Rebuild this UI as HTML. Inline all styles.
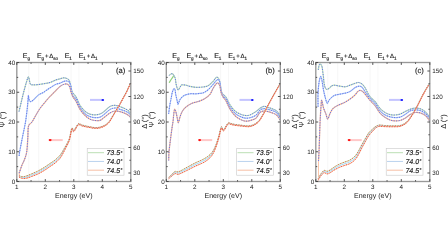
<!DOCTYPE html>
<html><head><meta charset="utf-8"><style>
html,body{margin:0;padding:0;background:#fff;}
svg{display:block;}
text{text-rendering:geometricPrecision;font-family:"Liberation Sans",Arial,sans-serif;fill:#1a1a1a;stroke:#1a1a1a;stroke-width:0;}
.t{font-size:6.3px;}
.ax{font-size:7.05px;}
.axr{font-size:7.3px;stroke-width:0;}
.e{font-size:7px;}
.sub{font-size:4.6px;}
.pm{font-size:6px;}
.e{stroke-width:0.14px;}
.lg{font-size:7px;stroke-width:0.16px;}
.pl{font-size:7.6px;stroke-width:0.12px;}
</style></head><body>
<svg width="448" height="252" viewBox="0 0 448 252">
<rect width="448" height="252" fill="#fff"/>
<g transform="translate(0,0)">
<line x1="28.77" y1="62.5" x2="28.77" y2="181.5" stroke="#e2e2e2" stroke-width="0.6" stroke-dasharray="1,1"/>
<line x1="38.75" y1="62.5" x2="38.75" y2="181.5" stroke="#e2e2e2" stroke-width="0.6" stroke-dasharray="1,1"/>
<line x1="71.09" y1="62.5" x2="71.09" y2="181.5" stroke="#e2e2e2" stroke-width="0.6" stroke-dasharray="1,1"/>
<line x1="78.93" y1="62.5" x2="78.93" y2="181.5" stroke="#e2e2e2" stroke-width="0.6" stroke-dasharray="1,1"/>
<line x1="19.3" y1="172" x2="19.3" y2="177" stroke="#f8b898" stroke-width="0.9"/>
<path d="M19.00,111.60 C19.42,109.83 20.72,104.27 21.50,101.00 C22.28,97.73 22.87,95.17 23.70,92.00 C24.53,88.83 25.70,84.52 26.50,82.00 C27.30,79.48 27.87,76.57 28.50,76.90 C29.13,77.23 29.55,82.68 30.30,84.00 C31.05,85.32 31.72,84.70 33.00,84.80 C34.28,84.90 35.87,84.83 38.00,84.60 C40.13,84.37 43.80,83.75 45.80,83.40 C47.80,83.05 48.30,83.08 50.00,82.50 C51.70,81.92 54.33,80.52 56.00,79.90 C57.67,79.28 58.75,79.15 60.00,78.80 C61.25,78.45 62.50,77.90 63.50,77.80 C64.50,77.70 65.17,77.92 66.00,78.20 C66.83,78.48 67.83,78.78 68.50,79.50 C69.17,80.22 69.55,81.08 70.00,82.50 C70.45,83.92 70.78,86.33 71.20,88.00 C71.62,89.67 71.70,91.03 72.50,92.50 C73.30,93.97 74.75,94.65 76.00,96.80 C77.25,98.95 78.50,102.99 80.00,105.40 C81.50,107.81 83.33,109.78 85.00,111.25 C86.67,112.72 88.33,113.59 90.00,114.20 C91.67,114.81 93.33,114.93 95.00,114.90 C96.67,114.87 98.50,114.56 100.00,114.00 C101.50,113.44 102.33,112.79 104.00,111.53 C105.67,110.27 108.17,107.47 110.00,106.43 C111.83,105.39 113.33,105.26 115.00,105.30 C116.67,105.34 118.33,106.13 120.00,106.70 C121.67,107.27 123.58,108.02 125.00,108.70 C126.42,109.38 127.58,110.08 128.50,110.80 C129.42,111.52 130.17,112.63 130.50,113.00" fill="none" stroke="#c4e6b8" stroke-width="1.25"/>
<path d="M19.00,111.60 C19.42,109.83 20.72,104.27 21.50,101.00 C22.28,97.73 22.87,95.17 23.70,92.00 C24.53,88.83 25.70,84.52 26.50,82.00 C27.30,79.48 27.87,76.57 28.50,76.90 C29.13,77.23 29.55,82.68 30.30,84.00 C31.05,85.32 31.72,84.70 33.00,84.80 C34.28,84.90 35.87,84.83 38.00,84.60 C40.13,84.37 43.80,83.75 45.80,83.40 C47.80,83.05 48.30,83.08 50.00,82.50 C51.70,81.92 54.33,80.52 56.00,79.90 C57.67,79.28 58.75,79.15 60.00,78.80 C61.25,78.45 62.50,77.90 63.50,77.80 C64.50,77.70 65.17,77.92 66.00,78.20 C66.83,78.48 67.83,78.78 68.50,79.50 C69.17,80.22 69.55,81.08 70.00,82.50 C70.45,83.92 70.78,86.33 71.20,88.00 C71.62,89.67 71.70,91.03 72.50,92.50 C73.30,93.97 74.75,94.65 76.00,96.80 C77.25,98.95 78.50,102.99 80.00,105.40 C81.50,107.81 83.33,109.78 85.00,111.25 C86.67,112.72 88.33,113.59 90.00,114.20 C91.67,114.81 93.33,114.93 95.00,114.90 C96.67,114.87 98.50,114.56 100.00,114.00 C101.50,113.44 102.33,112.79 104.00,111.53 C105.67,110.27 108.17,107.47 110.00,106.43 C111.83,105.39 113.33,105.26 115.00,105.30 C116.67,105.34 118.33,106.13 120.00,106.70 C121.67,107.27 123.58,108.02 125.00,108.70 C126.42,109.38 127.58,110.08 128.50,110.80 C129.42,111.52 130.17,112.63 130.50,113.00" fill="none" stroke="#5f70ee" stroke-width="0.95" stroke-dasharray="1.2,1.3"/>
<path d="M19.20,156.00 C19.27,155.33 19.05,155.17 19.60,152.00 C20.15,148.83 21.52,142.00 22.50,137.00 C23.48,132.00 24.70,126.83 25.50,122.00 C26.30,117.17 26.87,111.83 27.30,108.00 C27.73,104.17 27.92,101.10 28.10,99.00 C28.28,96.90 28.27,95.40 28.40,95.40 C28.53,95.40 28.58,97.97 28.90,99.00 C29.22,100.03 29.60,101.40 30.30,101.60 C31.00,101.80 31.75,101.30 33.10,100.20 C34.45,99.10 36.73,96.27 38.40,95.00 C40.07,93.73 41.83,93.33 43.10,92.60 C44.37,91.87 44.85,91.38 46.00,90.60 C47.15,89.82 48.33,88.95 50.00,87.90 C51.67,86.85 54.33,85.08 56.00,84.30 C57.67,83.52 58.67,83.70 60.00,83.20 C61.33,82.70 62.83,81.67 64.00,81.30 C65.17,80.93 66.08,80.80 67.00,81.00 C67.92,81.20 68.87,81.67 69.50,82.50 C70.13,83.33 70.42,84.42 70.80,86.00 C71.18,87.58 71.43,90.33 71.80,92.00 C72.17,93.67 72.30,94.87 73.00,96.00 C73.70,97.13 74.83,96.90 76.00,98.80 C77.17,100.70 78.50,104.91 80.00,107.40 C81.50,109.89 83.33,112.22 85.00,113.75 C86.67,115.28 88.33,115.94 90.00,116.60 C91.67,117.26 93.33,117.60 95.00,117.70 C96.67,117.80 98.50,117.73 100.00,117.20 C101.50,116.67 102.33,115.83 104.00,114.53 C105.67,113.24 108.17,110.52 110.00,109.43 C111.83,108.34 113.33,108.02 115.00,108.00 C116.67,107.98 118.33,108.80 120.00,109.30 C121.67,109.80 123.50,110.35 125.00,111.00 C126.50,111.65 128.08,112.53 129.00,113.20 C129.92,113.87 130.25,114.70 130.50,115.00" fill="none" stroke="#b3cdf4" stroke-width="1.25"/>
<path d="M19.20,156.00 C19.27,155.33 19.05,155.17 19.60,152.00 C20.15,148.83 21.52,142.00 22.50,137.00 C23.48,132.00 24.70,126.83 25.50,122.00 C26.30,117.17 26.87,111.83 27.30,108.00 C27.73,104.17 27.92,101.10 28.10,99.00 C28.28,96.90 28.27,95.40 28.40,95.40 C28.53,95.40 28.58,97.97 28.90,99.00 C29.22,100.03 29.60,101.40 30.30,101.60 C31.00,101.80 31.75,101.30 33.10,100.20 C34.45,99.10 36.73,96.27 38.40,95.00 C40.07,93.73 41.83,93.33 43.10,92.60 C44.37,91.87 44.85,91.38 46.00,90.60 C47.15,89.82 48.33,88.95 50.00,87.90 C51.67,86.85 54.33,85.08 56.00,84.30 C57.67,83.52 58.67,83.70 60.00,83.20 C61.33,82.70 62.83,81.67 64.00,81.30 C65.17,80.93 66.08,80.80 67.00,81.00 C67.92,81.20 68.87,81.67 69.50,82.50 C70.13,83.33 70.42,84.42 70.80,86.00 C71.18,87.58 71.43,90.33 71.80,92.00 C72.17,93.67 72.30,94.87 73.00,96.00 C73.70,97.13 74.83,96.90 76.00,98.80 C77.17,100.70 78.50,104.91 80.00,107.40 C81.50,109.89 83.33,112.22 85.00,113.75 C86.67,115.28 88.33,115.94 90.00,116.60 C91.67,117.26 93.33,117.60 95.00,117.70 C96.67,117.80 98.50,117.73 100.00,117.20 C101.50,116.67 102.33,115.83 104.00,114.53 C105.67,113.24 108.17,110.52 110.00,109.43 C111.83,108.34 113.33,108.02 115.00,108.00 C116.67,107.98 118.33,108.80 120.00,109.30 C121.67,109.80 123.50,110.35 125.00,111.00 C126.50,111.65 128.08,112.53 129.00,113.20 C129.92,113.87 130.25,114.70 130.50,115.00" fill="none" stroke="#5f70ee" stroke-width="0.95" stroke-dasharray="1.2,1.3"/>
<path d="M19.30,173.00 C19.33,172.87 19.05,173.53 19.50,172.20 C19.95,170.87 21.20,167.03 22.00,165.00 C22.80,162.97 23.52,162.17 24.30,160.00 C25.08,157.83 26.12,155.67 26.70,152.00 C27.28,148.33 27.50,142.30 27.80,138.00 C28.10,133.70 27.80,128.87 28.50,126.20 C29.20,123.53 30.75,123.87 32.00,122.00 C33.25,120.13 34.62,117.33 36.00,115.00 C37.38,112.67 38.63,110.33 40.30,108.00 C41.97,105.67 44.38,102.93 46.00,101.00 C47.62,99.07 48.58,97.90 50.00,96.40 C51.42,94.90 52.83,93.67 54.50,92.00 C56.17,90.33 58.25,87.73 60.00,86.40 C61.75,85.07 63.67,84.30 65.00,84.00 C66.33,83.70 67.17,84.00 68.00,84.60 C68.83,85.20 69.50,86.37 70.00,87.60 C70.50,88.83 70.50,90.43 71.00,92.00 C71.50,93.57 72.17,95.45 73.00,97.00 C73.83,98.55 74.83,99.23 76.00,101.30 C77.17,103.37 78.50,107.03 80.00,109.40 C81.50,111.78 83.33,113.92 85.00,115.55 C86.67,117.18 88.33,118.38 90.00,119.20 C91.67,120.03 93.33,120.30 95.00,120.50 C96.67,120.70 98.50,120.89 100.00,120.40 C101.50,119.91 102.33,118.78 104.00,117.53 C105.67,116.29 108.17,114.02 110.00,112.93 C111.83,111.84 113.33,111.22 115.00,111.00 C116.67,110.78 118.33,111.20 120.00,111.60 C121.67,112.00 123.50,112.70 125.00,113.40 C126.50,114.10 128.08,115.12 129.00,115.80 C129.92,116.48 130.25,117.22 130.50,117.50" fill="none" stroke="#f7b994" stroke-width="1.25"/>
<path d="M19.30,173.00 C19.33,172.87 19.05,173.53 19.50,172.20 C19.95,170.87 21.20,167.03 22.00,165.00 C22.80,162.97 23.52,162.17 24.30,160.00 C25.08,157.83 26.12,155.67 26.70,152.00 C27.28,148.33 27.50,142.30 27.80,138.00 C28.10,133.70 27.80,128.87 28.50,126.20 C29.20,123.53 30.75,123.87 32.00,122.00 C33.25,120.13 34.62,117.33 36.00,115.00 C37.38,112.67 38.63,110.33 40.30,108.00 C41.97,105.67 44.38,102.93 46.00,101.00 C47.62,99.07 48.58,97.90 50.00,96.40 C51.42,94.90 52.83,93.67 54.50,92.00 C56.17,90.33 58.25,87.73 60.00,86.40 C61.75,85.07 63.67,84.30 65.00,84.00 C66.33,83.70 67.17,84.00 68.00,84.60 C68.83,85.20 69.50,86.37 70.00,87.60 C70.50,88.83 70.50,90.43 71.00,92.00 C71.50,93.57 72.17,95.45 73.00,97.00 C73.83,98.55 74.83,99.23 76.00,101.30 C77.17,103.37 78.50,107.03 80.00,109.40 C81.50,111.78 83.33,113.92 85.00,115.55 C86.67,117.18 88.33,118.38 90.00,119.20 C91.67,120.03 93.33,120.30 95.00,120.50 C96.67,120.70 98.50,120.89 100.00,120.40 C101.50,119.91 102.33,118.78 104.00,117.53 C105.67,116.29 108.17,114.02 110.00,112.93 C111.83,111.84 113.33,111.22 115.00,111.00 C116.67,110.78 118.33,111.20 120.00,111.60 C121.67,112.00 123.50,112.70 125.00,113.40 C126.50,114.10 128.08,115.12 129.00,115.80 C129.92,116.48 130.25,117.22 130.50,117.50" fill="none" stroke="#5f70ee" stroke-width="0.95" stroke-dasharray="1.2,1.3"/>
<path d="M19.10,175.78 C19.42,175.88 20.20,176.26 21.00,176.40 C21.80,176.54 22.73,176.80 23.90,176.63 C25.07,176.47 26.48,175.96 28.00,175.40 C29.52,174.84 31.43,173.95 33.00,173.28 C34.57,172.60 35.90,172.11 37.40,171.37 C38.90,170.62 40.57,169.64 42.00,168.80 C43.43,167.96 44.67,167.18 46.00,166.30 C47.33,165.42 48.50,164.53 50.00,163.50 C51.50,162.47 53.33,161.47 55.00,160.10 C56.67,158.73 58.67,156.87 60.00,155.30 C61.33,153.73 62.00,152.35 63.00,150.70 C64.00,149.05 64.97,147.33 66.00,145.40 C67.03,143.47 68.43,141.15 69.20,139.11 C69.97,137.08 70.20,134.96 70.60,133.21 C71.00,131.45 71.32,129.44 71.60,128.57 C71.88,127.71 71.98,127.71 72.30,128.01 C72.62,128.31 73.05,130.20 73.50,130.35 C73.95,130.50 74.42,129.71 75.00,128.90 C75.58,128.09 76.37,126.35 77.00,125.47 C77.63,124.58 77.95,123.68 78.80,123.61 C79.65,123.53 81.07,124.68 82.10,125.03 C83.13,125.39 84.02,125.53 85.00,125.76 C85.98,125.98 86.33,126.07 88.00,126.38 C89.67,126.69 93.00,127.49 95.00,127.61 C97.00,127.74 98.33,127.54 100.00,127.12 C101.67,126.71 103.67,125.85 105.00,125.14 C106.33,124.42 107.17,123.63 108.00,122.84 C108.83,122.06 109.33,121.42 110.00,120.45 C110.67,119.48 111.33,118.19 112.00,117.05 C112.67,115.92 113.33,114.77 114.00,113.66 C114.67,112.54 115.33,111.48 116.00,110.36 C116.67,109.25 117.33,108.08 118.00,106.97 C118.67,105.85 119.17,105.16 120.00,103.67 C120.83,102.19 121.90,100.11 123.00,98.08 C124.10,96.05 125.68,93.29 126.60,91.49 C127.52,89.69 127.83,88.69 128.50,87.29 C129.17,85.90 130.25,83.80 130.60,83.10" fill="none" stroke="#b8e4ac" stroke-width="1.0"/>
<path d="M19.10,176.50 C19.42,176.62 20.20,177.02 21.00,177.20 C21.80,177.38 22.73,177.70 23.90,177.60 C25.07,177.50 26.48,177.10 28.00,176.60 C29.52,176.10 31.43,175.23 33.00,174.60 C34.57,173.97 35.90,173.52 37.40,172.80 C38.90,172.08 40.57,171.13 42.00,170.30 C43.43,169.47 44.67,168.68 46.00,167.80 C47.33,166.92 48.50,166.03 50.00,165.00 C51.50,163.97 53.33,162.97 55.00,161.60 C56.67,160.23 58.67,158.40 60.00,156.80 C61.33,155.20 62.00,153.72 63.00,152.00 C64.00,150.28 64.97,148.50 66.00,146.50 C67.03,144.50 68.43,142.08 69.20,140.00 C69.97,137.92 70.20,135.78 70.60,134.00 C71.00,132.22 71.32,130.18 71.60,129.30 C71.88,128.42 71.98,128.42 72.30,128.70 C72.62,128.98 73.05,130.87 73.50,131.00 C73.95,131.13 74.42,130.33 75.00,129.50 C75.58,128.67 76.37,126.90 77.00,126.00 C77.63,125.10 77.95,124.18 78.80,124.10 C79.65,124.02 81.07,125.15 82.10,125.50 C83.13,125.85 84.02,125.98 85.00,126.20 C85.98,126.42 86.33,126.50 88.00,126.80 C89.67,127.10 93.00,127.88 95.00,128.00 C97.00,128.12 98.33,127.92 100.00,127.50 C101.67,127.08 103.67,126.22 105.00,125.50 C106.33,124.78 107.17,123.98 108.00,123.20 C108.83,122.42 109.33,121.77 110.00,120.80 C110.67,119.83 111.33,118.53 112.00,117.40 C112.67,116.27 113.33,115.12 114.00,114.00 C114.67,112.88 115.33,111.82 116.00,110.70 C116.67,109.58 117.33,108.42 118.00,107.30 C118.67,106.18 119.17,105.48 120.00,104.00 C120.83,102.52 121.90,100.43 123.00,98.40 C124.10,96.37 125.68,93.60 126.60,91.80 C127.52,90.00 127.83,89.00 128.50,87.60 C129.17,86.20 130.25,84.10 130.60,83.40" fill="none" stroke="#a8d8f4" stroke-width="1.0"/>
<path d="M19.10,177.22 C19.42,177.35 20.20,177.78 21.00,178.00 C21.80,178.22 22.73,178.60 23.90,178.57 C25.07,178.53 26.48,178.24 28.00,177.80 C29.52,177.36 31.43,176.52 33.00,175.92 C34.57,175.33 35.90,174.92 37.40,174.24 C38.90,173.55 40.57,172.62 42.00,171.80 C43.43,170.98 44.67,170.18 46.00,169.30 C47.33,168.42 48.50,167.53 50.00,166.50 C51.50,165.47 53.33,164.47 55.00,163.10 C56.67,161.73 58.67,159.93 60.00,158.30 C61.33,156.67 62.00,155.08 63.00,153.30 C64.00,151.52 64.97,149.67 66.00,147.60 C67.03,145.53 68.43,143.02 69.20,140.89 C69.97,138.75 70.20,136.60 70.60,134.79 C71.00,132.98 71.32,130.93 71.60,130.03 C71.88,129.13 71.98,129.12 72.30,129.39 C72.62,129.66 73.05,131.53 73.50,131.65 C73.95,131.77 74.42,130.95 75.00,130.10 C75.58,129.25 76.37,127.45 77.00,126.53 C77.63,125.62 77.95,124.69 78.80,124.59 C79.65,124.50 81.07,125.62 82.10,125.97 C83.13,126.31 84.02,126.43 85.00,126.64 C85.98,126.85 86.33,126.93 88.00,127.22 C89.67,127.51 93.00,128.28 95.00,128.39 C97.00,128.50 98.33,128.30 100.00,127.88 C101.67,127.45 103.67,126.58 105.00,125.86 C106.33,125.14 107.17,124.34 108.00,123.56 C108.83,122.77 109.33,122.12 110.00,121.15 C110.67,120.18 111.33,118.88 112.00,117.75 C112.67,116.61 113.33,115.46 114.00,114.34 C114.67,113.22 115.33,112.15 116.00,111.04 C116.67,109.92 117.33,108.75 118.00,107.63 C118.67,106.51 119.17,105.81 120.00,104.33 C120.83,102.84 121.90,100.76 123.00,98.72 C124.10,96.68 125.68,93.91 126.60,92.11 C127.52,90.31 127.83,89.31 128.50,87.91 C129.17,86.50 130.25,84.40 130.60,83.70" fill="none" stroke="#f8b496" stroke-width="1.0"/>
<path d="M19.10,175.78 C19.42,175.88 20.20,176.26 21.00,176.40 C21.80,176.54 22.73,176.80 23.90,176.63 C25.07,176.47 26.48,175.96 28.00,175.40 C29.52,174.84 31.43,173.95 33.00,173.28 C34.57,172.60 35.90,172.11 37.40,171.37 C38.90,170.62 40.57,169.64 42.00,168.80 C43.43,167.96 44.67,167.18 46.00,166.30 C47.33,165.42 48.50,164.53 50.00,163.50 C51.50,162.47 53.33,161.47 55.00,160.10 C56.67,158.73 58.67,156.87 60.00,155.30 C61.33,153.73 62.00,152.35 63.00,150.70 C64.00,149.05 64.97,147.33 66.00,145.40 C67.03,143.47 68.43,141.15 69.20,139.11 C69.97,137.08 70.20,134.96 70.60,133.21 C71.00,131.45 71.32,129.44 71.60,128.57 C71.88,127.71 71.98,127.71 72.30,128.01 C72.62,128.31 73.05,130.20 73.50,130.35 C73.95,130.50 74.42,129.71 75.00,128.90 C75.58,128.09 76.37,126.35 77.00,125.47 C77.63,124.58 77.95,123.68 78.80,123.61 C79.65,123.53 81.07,124.68 82.10,125.03 C83.13,125.39 84.02,125.53 85.00,125.76 C85.98,125.98 86.33,126.07 88.00,126.38 C89.67,126.69 93.00,127.49 95.00,127.61 C97.00,127.74 98.33,127.54 100.00,127.12 C101.67,126.71 103.67,125.85 105.00,125.14 C106.33,124.42 107.17,123.63 108.00,122.84 C108.83,122.06 109.33,121.42 110.00,120.45 C110.67,119.48 111.33,118.19 112.00,117.05 C112.67,115.92 113.33,114.77 114.00,113.66 C114.67,112.54 115.33,111.48 116.00,110.36 C116.67,109.25 117.33,108.08 118.00,106.97 C118.67,105.85 119.17,105.16 120.00,103.67 C120.83,102.19 121.90,100.11 123.00,98.08 C124.10,96.05 125.68,93.29 126.60,91.49 C127.52,89.69 127.83,88.69 128.50,87.29 C129.17,85.90 130.25,83.80 130.60,83.10" fill="none" stroke="#f04a32" stroke-width="0.85" stroke-dasharray="1.1,1.5"/>
<path d="M19.10,177.22 C19.42,177.35 20.20,177.78 21.00,178.00 C21.80,178.22 22.73,178.60 23.90,178.57 C25.07,178.53 26.48,178.24 28.00,177.80 C29.52,177.36 31.43,176.52 33.00,175.92 C34.57,175.33 35.90,174.92 37.40,174.24 C38.90,173.55 40.57,172.62 42.00,171.80 C43.43,170.98 44.67,170.18 46.00,169.30 C47.33,168.42 48.50,167.53 50.00,166.50 C51.50,165.47 53.33,164.47 55.00,163.10 C56.67,161.73 58.67,159.93 60.00,158.30 C61.33,156.67 62.00,155.08 63.00,153.30 C64.00,151.52 64.97,149.67 66.00,147.60 C67.03,145.53 68.43,143.02 69.20,140.89 C69.97,138.75 70.20,136.60 70.60,134.79 C71.00,132.98 71.32,130.93 71.60,130.03 C71.88,129.13 71.98,129.12 72.30,129.39 C72.62,129.66 73.05,131.53 73.50,131.65 C73.95,131.77 74.42,130.95 75.00,130.10 C75.58,129.25 76.37,127.45 77.00,126.53 C77.63,125.62 77.95,124.69 78.80,124.59 C79.65,124.50 81.07,125.62 82.10,125.97 C83.13,126.31 84.02,126.43 85.00,126.64 C85.98,126.85 86.33,126.93 88.00,127.22 C89.67,127.51 93.00,128.28 95.00,128.39 C97.00,128.50 98.33,128.30 100.00,127.88 C101.67,127.45 103.67,126.58 105.00,125.86 C106.33,125.14 107.17,124.34 108.00,123.56 C108.83,122.77 109.33,122.12 110.00,121.15 C110.67,120.18 111.33,118.88 112.00,117.75 C112.67,116.61 113.33,115.46 114.00,114.34 C114.67,113.22 115.33,112.15 116.00,111.04 C116.67,109.92 117.33,108.75 118.00,107.63 C118.67,106.51 119.17,105.81 120.00,104.33 C120.83,102.84 121.90,100.76 123.00,98.72 C124.10,96.68 125.68,93.91 126.60,92.11 C127.52,90.31 127.83,89.31 128.50,87.91 C129.17,86.50 130.25,84.40 130.60,83.70" fill="none" stroke="#f04a32" stroke-width="0.85" stroke-dasharray="1.1,1.5"/>
<rect x="16.8" y="62.5" width="114.00000000000001" height="119.0" fill="none" stroke="#989898" stroke-width="1.35"/>
<line x1="16.80" y1="181.5" x2="16.80" y2="179.1" stroke="#404040" stroke-width="0.9"/>
<line x1="16.80" y1="62.5" x2="16.80" y2="64.9" stroke="#404040" stroke-width="0.9"/>
<line x1="31.05" y1="181.5" x2="31.05" y2="180.1" stroke="#404040" stroke-width="0.9"/>
<line x1="31.05" y1="62.5" x2="31.05" y2="63.9" stroke="#404040" stroke-width="0.9"/>
<line x1="45.30" y1="181.5" x2="45.30" y2="179.1" stroke="#404040" stroke-width="0.9"/>
<line x1="45.30" y1="62.5" x2="45.30" y2="64.9" stroke="#404040" stroke-width="0.9"/>
<line x1="59.55" y1="181.5" x2="59.55" y2="180.1" stroke="#404040" stroke-width="0.9"/>
<line x1="59.55" y1="62.5" x2="59.55" y2="63.9" stroke="#404040" stroke-width="0.9"/>
<line x1="73.80" y1="181.5" x2="73.80" y2="179.1" stroke="#404040" stroke-width="0.9"/>
<line x1="73.80" y1="62.5" x2="73.80" y2="64.9" stroke="#404040" stroke-width="0.9"/>
<line x1="88.05" y1="181.5" x2="88.05" y2="180.1" stroke="#404040" stroke-width="0.9"/>
<line x1="88.05" y1="62.5" x2="88.05" y2="63.9" stroke="#404040" stroke-width="0.9"/>
<line x1="102.30" y1="181.5" x2="102.30" y2="179.1" stroke="#404040" stroke-width="0.9"/>
<line x1="102.30" y1="62.5" x2="102.30" y2="64.9" stroke="#404040" stroke-width="0.9"/>
<line x1="116.55" y1="181.5" x2="116.55" y2="180.1" stroke="#404040" stroke-width="0.9"/>
<line x1="116.55" y1="62.5" x2="116.55" y2="63.9" stroke="#404040" stroke-width="0.9"/>
<line x1="130.80" y1="181.5" x2="130.80" y2="179.1" stroke="#404040" stroke-width="0.9"/>
<line x1="130.80" y1="62.5" x2="130.80" y2="64.9" stroke="#404040" stroke-width="0.9"/>
<line x1="16.8" y1="181.50" x2="19.2" y2="181.50" stroke="#404040" stroke-width="0.9"/>
<line x1="16.8" y1="166.62" x2="18.2" y2="166.62" stroke="#404040" stroke-width="0.9"/>
<line x1="16.8" y1="151.75" x2="19.2" y2="151.75" stroke="#404040" stroke-width="0.9"/>
<line x1="16.8" y1="136.88" x2="18.2" y2="136.88" stroke="#404040" stroke-width="0.9"/>
<line x1="16.8" y1="122.00" x2="19.2" y2="122.00" stroke="#404040" stroke-width="0.9"/>
<line x1="16.8" y1="107.12" x2="18.2" y2="107.12" stroke="#404040" stroke-width="0.9"/>
<line x1="16.8" y1="92.25" x2="19.2" y2="92.25" stroke="#404040" stroke-width="0.9"/>
<line x1="16.8" y1="77.38" x2="18.2" y2="77.38" stroke="#404040" stroke-width="0.9"/>
<line x1="16.8" y1="62.50" x2="19.2" y2="62.50" stroke="#404040" stroke-width="0.9"/>
<line x1="130.8" y1="173.00" x2="128.4" y2="173.00" stroke="#404040" stroke-width="0.9"/>
<line x1="130.8" y1="160.25" x2="129.4" y2="160.25" stroke="#404040" stroke-width="0.9"/>
<line x1="130.8" y1="147.50" x2="128.4" y2="147.50" stroke="#404040" stroke-width="0.9"/>
<line x1="130.8" y1="134.75" x2="129.4" y2="134.75" stroke="#404040" stroke-width="0.9"/>
<line x1="130.8" y1="122.00" x2="128.4" y2="122.00" stroke="#404040" stroke-width="0.9"/>
<line x1="130.8" y1="109.25" x2="129.4" y2="109.25" stroke="#404040" stroke-width="0.9"/>
<line x1="130.8" y1="96.50" x2="128.4" y2="96.50" stroke="#404040" stroke-width="0.9"/>
<line x1="130.8" y1="83.75" x2="129.4" y2="83.75" stroke="#404040" stroke-width="0.9"/>
<line x1="130.8" y1="71.00" x2="128.4" y2="71.00" stroke="#404040" stroke-width="0.9"/>
<text x="16.80" y="189" class="t" text-anchor="middle">1</text>
<text x="45.30" y="189" class="t" text-anchor="middle">2</text>
<text x="73.80" y="189" class="t" text-anchor="middle">3</text>
<text x="102.30" y="189" class="t" text-anchor="middle">4</text>
<text x="130.80" y="189" class="t" text-anchor="middle">5</text>
<text x="15.3" y="183.60" class="t" text-anchor="end">0</text>
<text x="15.3" y="153.85" class="t" text-anchor="end">10</text>
<text x="15.3" y="124.10" class="t" text-anchor="end">20</text>
<text x="15.3" y="94.35" class="t" text-anchor="end">30</text>
<text x="15.3" y="64.60" class="t" text-anchor="end">40</text>
<text x="133.3" y="175.10" class="t">30</text>
<text x="133.3" y="149.60" class="t">60</text>
<text x="133.3" y="124.10" class="t">90</text>
<text x="133.3" y="98.60" class="t">120</text>
<text x="133.3" y="73.10" class="t">150</text>
<text x="73.80" y="197.5" class="ax" text-anchor="middle">Energy (eV)</text>
<text transform="translate(4.600000000000001,119.5) rotate(-90)" class="axr" text-anchor="middle">&#936; (&#176;)</text>
<text transform="translate(147.3,121.5) rotate(-90)" class="axr" text-anchor="middle">&#916; (&#176;)</text>
<text x="22.8" y="57.5" class="e">E<tspan class="sub" dy="2.3">g</tspan></text>
<text x="36.9" y="57.5" class="e">E<tspan class="sub" dy="2.3">g</tspan><tspan class="pm" dy="-2.3" dx="0.8">+</tspan><tspan class="pm" dx="0.7">&#916;</tspan><tspan class="sub" dy="2.3">so</tspan></text>
<text x="64.7" y="57.5" class="e">E<tspan class="sub" dy="2.3">1</tspan></text>
<text x="78.7" y="57.5" class="e">E<tspan class="sub" dy="2.3">1</tspan><tspan class="pm" dy="-2.3" dx="0.8">+</tspan><tspan class="pm" dx="0.7">&#916;</tspan><tspan class="sub" dy="2.3">1</tspan></text>
<line x1="90" y1="99.9" x2="102" y2="99.9" stroke="#c4c4ff" stroke-width="2"/>
<ellipse cx="102.8" cy="99.95" rx="1.35" ry="1.05" fill="#1414ff"/>
<line x1="51" y1="140.1" x2="62.7" y2="140.1" stroke="#ffc8c8" stroke-width="2"/>
<ellipse cx="50.1" cy="140.1" rx="1.5" ry="1.1" fill="#ff1010"/>
<text x="116" y="72.8" class="pl">(a)</text>
<rect x="87.2" y="148.3" width="36.8" height="26.9" fill="#fff" stroke="#c8c8c8" stroke-width="0.6"/>
<line x1="88" y1="152.70" x2="104" y2="152.70" stroke="#a9d6a0" stroke-width="0.8"/>
<text transform="translate(106.2,155.10) skewX(-9)" class="lg">73.5<tspan font-size="5.4px" dy="-0.6">&#176;</tspan></text>
<line x1="88" y1="161.45" x2="104" y2="161.45" stroke="#a8c8ea" stroke-width="0.8"/>
<text transform="translate(106.2,163.85) skewX(-9)" class="lg">74.0<tspan font-size="5.4px" dy="-0.6">&#176;</tspan></text>
<line x1="88" y1="170.20" x2="104" y2="170.20" stroke="#f4b08e" stroke-width="0.8"/>
<text transform="translate(106.2,172.60) skewX(-9)" class="lg">74.5<tspan font-size="5.4px" dy="-0.6">&#176;</tspan></text>
</g>
<g transform="translate(149.5,0)">
<line x1="28.77" y1="62.5" x2="28.77" y2="181.5" stroke="#e2e2e2" stroke-width="0.6" stroke-dasharray="1,1"/>
<line x1="38.75" y1="62.5" x2="38.75" y2="181.5" stroke="#e2e2e2" stroke-width="0.6" stroke-dasharray="1,1"/>
<line x1="71.09" y1="62.5" x2="71.09" y2="181.5" stroke="#e2e2e2" stroke-width="0.6" stroke-dasharray="1,1"/>
<line x1="78.93" y1="62.5" x2="78.93" y2="181.5" stroke="#e2e2e2" stroke-width="0.6" stroke-dasharray="1,1"/>
<path d="M19.70,82.70 C20.08,82.08 21.22,80.20 22.00,79.00 C22.78,77.80 24.00,76.08 24.40,75.50" fill="none" stroke="#8fd07a" stroke-width="1.2"/>
<path d="M19.70,75.50 C19.92,75.28 20.48,74.50 21.00,74.20 C21.52,73.90 22.23,73.48 22.80,73.70 C23.37,73.92 23.93,74.80 24.40,75.50 C24.87,76.20 25.32,77.07 25.60,77.90 C25.88,78.73 25.95,79.55 26.10,80.50 C26.25,81.45 26.33,82.65 26.50,83.60 C26.67,84.55 26.88,85.38 27.10,86.20 C27.32,87.02 27.57,87.88 27.80,88.50 C28.03,89.12 28.25,89.73 28.50,89.90 C28.75,90.07 28.85,90.15 29.30,89.50 C29.75,88.85 30.68,86.78 31.20,86.00 C31.72,85.22 31.52,84.93 32.40,84.80 C33.28,84.67 35.15,84.93 36.50,85.20 C37.85,85.47 38.83,86.05 40.50,86.40 C42.17,86.75 44.33,87.20 46.50,87.30 C48.67,87.40 51.50,87.25 53.50,87.00 C55.50,86.75 56.83,86.72 58.50,85.80 C60.17,84.88 62.30,82.72 63.50,81.50 C64.70,80.28 65.05,79.22 65.70,78.50 C66.35,77.78 66.85,77.22 67.40,77.20 C67.95,77.18 68.55,77.73 69.00,78.40 C69.45,79.07 69.78,80.10 70.10,81.20 C70.42,82.30 70.65,83.53 70.90,85.00 C71.15,86.47 71.25,88.53 71.60,90.00 C71.95,91.47 72.18,92.60 73.00,93.80 C73.82,95.00 75.25,95.36 76.50,97.22 C77.75,99.07 79.00,102.61 80.50,104.91 C82.00,107.21 83.83,109.50 85.50,111.01 C87.17,112.52 88.83,113.24 90.50,113.99 C92.17,114.74 93.83,115.33 95.50,115.49 C97.17,115.65 98.67,115.62 100.50,114.97 C102.33,114.31 104.83,112.67 106.50,111.55 C108.17,110.43 109.17,109.12 110.50,108.25 C111.83,107.38 113.17,106.46 114.50,106.30 C115.83,106.14 117.17,106.90 118.50,107.30 C119.83,107.70 121.17,108.17 122.50,108.70 C123.83,109.23 125.42,109.78 126.50,110.50 C127.58,111.22 128.33,112.08 129.00,113.00 C129.67,113.92 130.25,115.50 130.50,116.00" fill="none" stroke="#c4e6b8" stroke-width="1.25"/>
<path d="M19.70,75.50 C19.92,75.28 20.48,74.50 21.00,74.20 C21.52,73.90 22.23,73.48 22.80,73.70 C23.37,73.92 23.93,74.80 24.40,75.50 C24.87,76.20 25.32,77.07 25.60,77.90 C25.88,78.73 25.95,79.55 26.10,80.50 C26.25,81.45 26.33,82.65 26.50,83.60 C26.67,84.55 26.88,85.38 27.10,86.20 C27.32,87.02 27.57,87.88 27.80,88.50 C28.03,89.12 28.25,89.73 28.50,89.90 C28.75,90.07 28.85,90.15 29.30,89.50 C29.75,88.85 30.68,86.78 31.20,86.00 C31.72,85.22 31.52,84.93 32.40,84.80 C33.28,84.67 35.15,84.93 36.50,85.20 C37.85,85.47 38.83,86.05 40.50,86.40 C42.17,86.75 44.33,87.20 46.50,87.30 C48.67,87.40 51.50,87.25 53.50,87.00 C55.50,86.75 56.83,86.72 58.50,85.80 C60.17,84.88 62.30,82.72 63.50,81.50 C64.70,80.28 65.05,79.22 65.70,78.50 C66.35,77.78 66.85,77.22 67.40,77.20 C67.95,77.18 68.55,77.73 69.00,78.40 C69.45,79.07 69.78,80.10 70.10,81.20 C70.42,82.30 70.65,83.53 70.90,85.00 C71.15,86.47 71.25,88.53 71.60,90.00 C71.95,91.47 72.18,92.60 73.00,93.80 C73.82,95.00 75.25,95.36 76.50,97.22 C77.75,99.07 79.00,102.61 80.50,104.91 C82.00,107.21 83.83,109.50 85.50,111.01 C87.17,112.52 88.83,113.24 90.50,113.99 C92.17,114.74 93.83,115.33 95.50,115.49 C97.17,115.65 98.67,115.62 100.50,114.97 C102.33,114.31 104.83,112.67 106.50,111.55 C108.17,110.43 109.17,109.12 110.50,108.25 C111.83,107.38 113.17,106.46 114.50,106.30 C115.83,106.14 117.17,106.90 118.50,107.30 C119.83,107.70 121.17,108.17 122.50,108.70 C123.83,109.23 125.42,109.78 126.50,110.50 C127.58,111.22 128.33,112.08 129.00,113.00 C129.67,113.92 130.25,115.50 130.50,116.00" fill="none" stroke="#5f70ee" stroke-width="0.95" stroke-dasharray="1.2,1.3"/>
<path d="M19.00,114.00 C19.05,113.78 19.12,113.98 19.30,112.70 C19.48,111.42 19.77,108.42 20.10,106.30 C20.43,104.18 21.02,101.47 21.30,100.00 C21.58,98.53 21.55,98.78 21.80,97.50 C22.05,96.22 22.37,93.77 22.80,92.30 C23.23,90.83 23.93,89.08 24.40,88.70 C24.87,88.32 25.32,89.13 25.60,90.00 C25.88,90.87 25.90,92.72 26.10,93.90 C26.30,95.08 26.53,95.92 26.80,97.10 C27.07,98.28 27.43,99.80 27.70,101.00 C27.97,102.20 28.13,104.05 28.40,104.30 C28.67,104.55 28.90,103.37 29.30,102.50 C29.70,101.63 29.95,100.25 30.80,99.10 C31.65,97.95 32.82,96.48 34.40,95.60 C35.98,94.72 38.28,94.10 40.30,93.80 C42.32,93.50 44.47,93.90 46.50,93.80 C48.53,93.70 51.00,93.50 52.50,93.20 C54.00,92.90 54.33,92.70 55.50,92.00 C56.67,91.30 58.17,90.25 59.50,89.00 C60.83,87.75 62.27,85.92 63.50,84.50 C64.73,83.08 66.07,81.32 66.90,80.50 C67.73,79.68 67.98,79.52 68.50,79.60 C69.02,79.68 69.60,80.02 70.00,81.00 C70.40,81.98 70.63,83.83 70.90,85.50 C71.17,87.17 71.17,89.25 71.60,91.00 C72.03,92.75 72.68,94.68 73.50,96.00 C74.32,97.32 75.33,97.08 76.50,98.92 C77.67,100.75 79.00,104.61 80.50,107.01 C82.00,109.41 83.83,111.75 85.50,113.31 C87.17,114.87 88.83,115.59 90.50,116.39 C92.17,117.19 93.83,117.86 95.50,118.09 C97.17,118.32 98.67,118.26 100.50,117.77 C102.33,117.28 104.83,116.44 106.50,115.15 C108.17,113.86 109.17,111.13 110.50,110.05 C111.83,108.98 113.17,108.83 114.50,108.70 C115.83,108.58 117.17,109.00 118.50,109.30 C119.83,109.60 121.17,110.02 122.50,110.50 C123.83,110.98 125.42,111.45 126.50,112.20 C127.58,112.95 128.33,114.03 129.00,115.00 C129.67,115.97 130.25,117.50 130.50,118.00" fill="none" stroke="#b3cdf4" stroke-width="1.25"/>
<path d="M19.00,114.00 C19.05,113.78 19.12,113.98 19.30,112.70 C19.48,111.42 19.77,108.42 20.10,106.30 C20.43,104.18 21.02,101.47 21.30,100.00 C21.58,98.53 21.55,98.78 21.80,97.50 C22.05,96.22 22.37,93.77 22.80,92.30 C23.23,90.83 23.93,89.08 24.40,88.70 C24.87,88.32 25.32,89.13 25.60,90.00 C25.88,90.87 25.90,92.72 26.10,93.90 C26.30,95.08 26.53,95.92 26.80,97.10 C27.07,98.28 27.43,99.80 27.70,101.00 C27.97,102.20 28.13,104.05 28.40,104.30 C28.67,104.55 28.90,103.37 29.30,102.50 C29.70,101.63 29.95,100.25 30.80,99.10 C31.65,97.95 32.82,96.48 34.40,95.60 C35.98,94.72 38.28,94.10 40.30,93.80 C42.32,93.50 44.47,93.90 46.50,93.80 C48.53,93.70 51.00,93.50 52.50,93.20 C54.00,92.90 54.33,92.70 55.50,92.00 C56.67,91.30 58.17,90.25 59.50,89.00 C60.83,87.75 62.27,85.92 63.50,84.50 C64.73,83.08 66.07,81.32 66.90,80.50 C67.73,79.68 67.98,79.52 68.50,79.60 C69.02,79.68 69.60,80.02 70.00,81.00 C70.40,81.98 70.63,83.83 70.90,85.50 C71.17,87.17 71.17,89.25 71.60,91.00 C72.03,92.75 72.68,94.68 73.50,96.00 C74.32,97.32 75.33,97.08 76.50,98.92 C77.67,100.75 79.00,104.61 80.50,107.01 C82.00,109.41 83.83,111.75 85.50,113.31 C87.17,114.87 88.83,115.59 90.50,116.39 C92.17,117.19 93.83,117.86 95.50,118.09 C97.17,118.32 98.67,118.26 100.50,117.77 C102.33,117.28 104.83,116.44 106.50,115.15 C108.17,113.86 109.17,111.13 110.50,110.05 C111.83,108.98 113.17,108.83 114.50,108.70 C115.83,108.58 117.17,109.00 118.50,109.30 C119.83,109.60 121.17,110.02 122.50,110.50 C123.83,110.98 125.42,111.45 126.50,112.20 C127.58,112.95 128.33,114.03 129.00,115.00 C129.67,115.97 130.25,117.50 130.50,118.00" fill="none" stroke="#5f70ee" stroke-width="0.95" stroke-dasharray="1.2,1.3"/>
<path d="M19.20,160.50 C19.25,159.08 19.22,155.42 19.50,152.00 C19.78,148.58 20.40,144.00 20.90,140.00 C21.40,136.00 22.05,131.17 22.50,128.00 C22.95,124.83 23.33,123.08 23.60,121.00 C23.87,118.92 23.87,117.42 24.10,115.50 C24.33,113.58 24.68,110.33 25.00,109.50 C25.32,108.67 25.70,109.83 26.00,110.50 C26.30,111.17 26.50,112.20 26.80,113.50 C27.10,114.80 27.52,116.80 27.80,118.30 C28.08,119.80 28.25,121.97 28.50,122.50 C28.75,123.03 28.92,122.58 29.30,121.50 C29.68,120.42 30.18,117.75 30.80,116.00 C31.42,114.25 32.05,112.50 33.00,111.00 C33.95,109.50 34.92,108.28 36.50,107.00 C38.08,105.72 40.83,104.12 42.50,103.30 C44.17,102.48 45.17,102.50 46.50,102.10 C47.83,101.70 49.00,101.50 50.50,100.90 C52.00,100.30 53.83,99.58 55.50,98.50 C57.17,97.42 59.17,96.07 60.50,94.40 C61.83,92.73 62.50,90.23 63.50,88.50 C64.50,86.77 65.70,84.93 66.50,84.00 C67.30,83.07 67.80,82.85 68.30,82.90 C68.80,82.95 69.13,83.73 69.50,84.30 C69.87,84.87 70.17,85.02 70.50,86.30 C70.83,87.58 71.00,90.22 71.50,92.00 C72.00,93.78 72.67,95.51 73.50,97.00 C74.33,98.49 75.33,98.90 76.50,100.92 C77.67,102.94 79.00,106.64 80.50,109.11 C82.00,111.58 83.83,114.03 85.50,115.71 C87.17,117.39 88.83,118.29 90.50,119.19 C92.17,120.09 93.83,120.86 95.50,121.09 C97.17,121.32 98.67,121.06 100.50,120.57 C102.33,120.08 104.83,119.52 106.50,118.15 C108.17,116.78 109.17,113.54 110.50,112.35 C111.83,111.16 113.17,111.12 114.50,111.00 C115.83,110.88 117.17,111.30 118.50,111.60 C119.83,111.90 121.17,112.30 122.50,112.80 C123.83,113.30 125.42,113.82 126.50,114.60 C127.58,115.38 128.33,116.60 129.00,117.50 C129.67,118.40 130.25,119.58 130.50,120.00" fill="none" stroke="#f7b994" stroke-width="1.25"/>
<path d="M19.20,160.50 C19.25,159.08 19.22,155.42 19.50,152.00 C19.78,148.58 20.40,144.00 20.90,140.00 C21.40,136.00 22.05,131.17 22.50,128.00 C22.95,124.83 23.33,123.08 23.60,121.00 C23.87,118.92 23.87,117.42 24.10,115.50 C24.33,113.58 24.68,110.33 25.00,109.50 C25.32,108.67 25.70,109.83 26.00,110.50 C26.30,111.17 26.50,112.20 26.80,113.50 C27.10,114.80 27.52,116.80 27.80,118.30 C28.08,119.80 28.25,121.97 28.50,122.50 C28.75,123.03 28.92,122.58 29.30,121.50 C29.68,120.42 30.18,117.75 30.80,116.00 C31.42,114.25 32.05,112.50 33.00,111.00 C33.95,109.50 34.92,108.28 36.50,107.00 C38.08,105.72 40.83,104.12 42.50,103.30 C44.17,102.48 45.17,102.50 46.50,102.10 C47.83,101.70 49.00,101.50 50.50,100.90 C52.00,100.30 53.83,99.58 55.50,98.50 C57.17,97.42 59.17,96.07 60.50,94.40 C61.83,92.73 62.50,90.23 63.50,88.50 C64.50,86.77 65.70,84.93 66.50,84.00 C67.30,83.07 67.80,82.85 68.30,82.90 C68.80,82.95 69.13,83.73 69.50,84.30 C69.87,84.87 70.17,85.02 70.50,86.30 C70.83,87.58 71.00,90.22 71.50,92.00 C72.00,93.78 72.67,95.51 73.50,97.00 C74.33,98.49 75.33,98.90 76.50,100.92 C77.67,102.94 79.00,106.64 80.50,109.11 C82.00,111.58 83.83,114.03 85.50,115.71 C87.17,117.39 88.83,118.29 90.50,119.19 C92.17,120.09 93.83,120.86 95.50,121.09 C97.17,121.32 98.67,121.06 100.50,120.57 C102.33,120.08 104.83,119.52 106.50,118.15 C108.17,116.78 109.17,113.54 110.50,112.35 C111.83,111.16 113.17,111.12 114.50,111.00 C115.83,110.88 117.17,111.30 118.50,111.60 C119.83,111.90 121.17,112.30 122.50,112.80 C123.83,113.30 125.42,113.82 126.50,114.60 C127.58,115.38 128.33,116.60 129.00,117.50 C129.67,118.40 130.25,119.58 130.50,120.00" fill="none" stroke="#5f70ee" stroke-width="0.95" stroke-dasharray="1.2,1.3"/>
<path d="M19.20,177.27 C19.50,177.01 20.37,176.31 21.00,175.70 C21.63,175.09 22.20,174.30 23.00,173.59 C23.80,172.87 24.90,171.69 25.80,171.43 C26.70,171.16 27.53,172.07 28.40,171.99 C29.27,171.90 30.00,171.38 31.00,170.90 C32.00,170.42 32.82,169.95 34.40,169.09 C35.98,168.22 38.48,166.79 40.50,165.70 C42.52,164.61 44.83,163.37 46.50,162.56 C48.17,161.75 49.00,161.54 50.50,160.83 C52.00,160.12 53.83,159.34 55.50,158.31 C57.17,157.29 59.08,156.01 60.50,154.66 C61.92,153.30 62.95,151.98 64.00,150.20 C65.05,148.42 65.92,146.30 66.80,143.95 C67.68,141.61 68.62,138.49 69.30,136.12 C69.98,133.75 70.48,131.27 70.90,129.73 C71.32,128.19 71.53,127.32 71.80,126.89 C72.07,126.45 72.22,126.66 72.50,127.12 C72.78,127.58 73.08,129.39 73.50,129.65 C73.92,129.91 74.42,129.43 75.00,128.70 C75.58,127.97 76.33,126.25 77.00,125.27 C77.67,124.28 78.25,123.10 79.00,122.81 C79.75,122.52 80.42,123.25 81.50,123.53 C82.58,123.80 84.00,124.20 85.50,124.46 C87.00,124.72 88.83,124.89 90.50,125.10 C92.17,125.31 94.00,125.58 95.50,125.71 C97.00,125.85 98.17,126.05 99.50,125.92 C100.83,125.79 102.33,125.38 103.50,124.93 C104.67,124.49 105.67,123.77 106.50,123.24 C107.33,122.71 107.83,122.39 108.50,121.75 C109.17,121.10 109.83,120.30 110.50,119.35 C111.17,118.40 111.83,117.17 112.50,116.06 C113.17,114.94 113.83,113.86 114.50,112.66 C115.17,111.46 115.83,110.13 116.50,108.87 C117.17,107.60 117.83,106.34 118.50,105.07 C119.17,103.81 119.67,102.81 120.50,101.27 C121.33,99.74 122.53,97.61 123.50,95.88 C124.47,94.15 125.47,92.35 126.30,90.89 C127.13,89.42 127.73,88.39 128.50,87.09 C129.27,85.80 130.50,83.77 130.90,83.10" fill="none" stroke="#b8e4ac" stroke-width="1.0"/>
<path d="M19.20,178.00 C19.50,177.75 20.37,177.08 21.00,176.50 C21.63,175.92 22.20,175.17 23.00,174.50 C23.80,173.83 24.90,172.72 25.80,172.50 C26.70,172.28 27.53,173.25 28.40,173.20 C29.27,173.15 30.00,172.65 31.00,172.20 C32.00,171.75 32.82,171.32 34.40,170.50 C35.98,169.68 38.48,168.35 40.50,167.30 C42.52,166.25 44.83,165.00 46.50,164.20 C48.17,163.40 49.00,163.20 50.50,162.50 C52.00,161.80 53.83,161.05 55.50,160.00 C57.17,158.95 59.08,157.62 60.50,156.20 C61.92,154.78 62.95,153.37 64.00,151.50 C65.05,149.63 65.92,147.42 66.80,145.00 C67.68,142.58 68.62,139.42 69.30,137.00 C69.98,134.58 70.48,132.07 70.90,130.50 C71.32,128.93 71.53,128.05 71.80,127.60 C72.07,127.15 72.22,127.35 72.50,127.80 C72.78,128.25 73.08,130.05 73.50,130.30 C73.92,130.55 74.42,130.05 75.00,129.30 C75.58,128.55 76.33,126.80 77.00,125.80 C77.67,124.80 78.25,123.60 79.00,123.30 C79.75,123.00 80.42,123.73 81.50,124.00 C82.58,124.27 84.00,124.65 85.50,124.90 C87.00,125.15 88.83,125.30 90.50,125.50 C92.17,125.70 94.00,125.97 95.50,126.10 C97.00,126.23 98.17,126.43 99.50,126.30 C100.83,126.17 102.33,125.75 103.50,125.30 C104.67,124.85 105.67,124.13 106.50,123.60 C107.33,123.07 107.83,122.75 108.50,122.10 C109.17,121.45 109.83,120.65 110.50,119.70 C111.17,118.75 111.83,117.52 112.50,116.40 C113.17,115.28 113.83,114.20 114.50,113.00 C115.17,111.80 115.83,110.47 116.50,109.20 C117.17,107.93 117.83,106.67 118.50,105.40 C119.17,104.13 119.67,103.13 120.50,101.60 C121.33,100.07 122.53,97.93 123.50,96.20 C124.47,94.47 125.47,92.67 126.30,91.20 C127.13,89.73 127.73,88.70 128.50,87.40 C129.27,86.10 130.50,84.07 130.90,83.40" fill="none" stroke="#a8d8f4" stroke-width="1.0"/>
<path d="M19.20,178.73 C19.50,178.49 20.37,177.85 21.00,177.30 C21.63,176.75 22.20,176.04 23.00,175.41 C23.80,174.79 24.90,173.74 25.80,173.57 C26.70,173.41 27.53,174.43 28.40,174.41 C29.27,174.40 30.00,173.92 31.00,173.50 C32.00,173.08 32.82,172.68 34.40,171.91 C35.98,171.15 38.48,169.91 40.50,168.90 C42.52,167.89 44.83,166.63 46.50,165.84 C48.17,165.05 49.00,164.86 50.50,164.17 C52.00,163.48 53.83,162.76 55.50,161.69 C57.17,160.61 59.08,159.22 60.50,157.74 C61.92,156.26 62.95,154.75 64.00,152.80 C65.05,150.85 65.92,148.53 66.80,146.05 C67.68,143.56 68.62,140.34 69.30,137.88 C69.98,135.42 70.48,132.87 70.90,131.27 C71.32,129.68 71.53,128.78 71.80,128.31 C72.07,127.85 72.22,128.04 72.50,128.48 C72.78,128.92 73.08,130.71 73.50,130.95 C73.92,131.19 74.42,130.67 75.00,129.90 C75.58,129.13 76.33,127.35 77.00,126.33 C77.67,125.32 78.25,124.10 79.00,123.79 C79.75,123.48 80.42,124.21 81.50,124.47 C82.58,124.73 84.00,125.10 85.50,125.34 C87.00,125.58 88.83,125.71 90.50,125.90 C92.17,126.09 94.00,126.36 95.50,126.49 C97.00,126.62 98.17,126.81 99.50,126.68 C100.83,126.54 102.33,126.12 103.50,125.67 C104.67,125.21 105.67,124.49 106.50,123.96 C107.33,123.42 107.83,123.11 108.50,122.45 C109.17,121.80 109.83,121.00 110.50,120.05 C111.17,119.10 111.83,117.86 112.50,116.74 C113.17,115.63 113.83,114.54 114.50,113.34 C115.17,112.14 115.83,110.80 116.50,109.53 C117.17,108.27 117.83,107.00 118.50,105.73 C119.17,104.46 119.67,103.46 120.50,101.92 C121.33,100.39 122.53,98.25 123.50,96.52 C124.47,94.78 125.47,92.98 126.30,91.51 C127.13,90.04 127.73,89.01 128.50,87.71 C129.27,86.40 130.50,84.37 130.90,83.70" fill="none" stroke="#f8b496" stroke-width="1.0"/>
<path d="M19.20,177.27 C19.50,177.01 20.37,176.31 21.00,175.70 C21.63,175.09 22.20,174.30 23.00,173.59 C23.80,172.87 24.90,171.69 25.80,171.43 C26.70,171.16 27.53,172.07 28.40,171.99 C29.27,171.90 30.00,171.38 31.00,170.90 C32.00,170.42 32.82,169.95 34.40,169.09 C35.98,168.22 38.48,166.79 40.50,165.70 C42.52,164.61 44.83,163.37 46.50,162.56 C48.17,161.75 49.00,161.54 50.50,160.83 C52.00,160.12 53.83,159.34 55.50,158.31 C57.17,157.29 59.08,156.01 60.50,154.66 C61.92,153.30 62.95,151.98 64.00,150.20 C65.05,148.42 65.92,146.30 66.80,143.95 C67.68,141.61 68.62,138.49 69.30,136.12 C69.98,133.75 70.48,131.27 70.90,129.73 C71.32,128.19 71.53,127.32 71.80,126.89 C72.07,126.45 72.22,126.66 72.50,127.12 C72.78,127.58 73.08,129.39 73.50,129.65 C73.92,129.91 74.42,129.43 75.00,128.70 C75.58,127.97 76.33,126.25 77.00,125.27 C77.67,124.28 78.25,123.10 79.00,122.81 C79.75,122.52 80.42,123.25 81.50,123.53 C82.58,123.80 84.00,124.20 85.50,124.46 C87.00,124.72 88.83,124.89 90.50,125.10 C92.17,125.31 94.00,125.58 95.50,125.71 C97.00,125.85 98.17,126.05 99.50,125.92 C100.83,125.79 102.33,125.38 103.50,124.93 C104.67,124.49 105.67,123.77 106.50,123.24 C107.33,122.71 107.83,122.39 108.50,121.75 C109.17,121.10 109.83,120.30 110.50,119.35 C111.17,118.40 111.83,117.17 112.50,116.06 C113.17,114.94 113.83,113.86 114.50,112.66 C115.17,111.46 115.83,110.13 116.50,108.87 C117.17,107.60 117.83,106.34 118.50,105.07 C119.17,103.81 119.67,102.81 120.50,101.27 C121.33,99.74 122.53,97.61 123.50,95.88 C124.47,94.15 125.47,92.35 126.30,90.89 C127.13,89.42 127.73,88.39 128.50,87.09 C129.27,85.80 130.50,83.77 130.90,83.10" fill="none" stroke="#f04a32" stroke-width="0.85" stroke-dasharray="1.1,1.5"/>
<path d="M19.20,178.73 C19.50,178.49 20.37,177.85 21.00,177.30 C21.63,176.75 22.20,176.04 23.00,175.41 C23.80,174.79 24.90,173.74 25.80,173.57 C26.70,173.41 27.53,174.43 28.40,174.41 C29.27,174.40 30.00,173.92 31.00,173.50 C32.00,173.08 32.82,172.68 34.40,171.91 C35.98,171.15 38.48,169.91 40.50,168.90 C42.52,167.89 44.83,166.63 46.50,165.84 C48.17,165.05 49.00,164.86 50.50,164.17 C52.00,163.48 53.83,162.76 55.50,161.69 C57.17,160.61 59.08,159.22 60.50,157.74 C61.92,156.26 62.95,154.75 64.00,152.80 C65.05,150.85 65.92,148.53 66.80,146.05 C67.68,143.56 68.62,140.34 69.30,137.88 C69.98,135.42 70.48,132.87 70.90,131.27 C71.32,129.68 71.53,128.78 71.80,128.31 C72.07,127.85 72.22,128.04 72.50,128.48 C72.78,128.92 73.08,130.71 73.50,130.95 C73.92,131.19 74.42,130.67 75.00,129.90 C75.58,129.13 76.33,127.35 77.00,126.33 C77.67,125.32 78.25,124.10 79.00,123.79 C79.75,123.48 80.42,124.21 81.50,124.47 C82.58,124.73 84.00,125.10 85.50,125.34 C87.00,125.58 88.83,125.71 90.50,125.90 C92.17,126.09 94.00,126.36 95.50,126.49 C97.00,126.62 98.17,126.81 99.50,126.68 C100.83,126.54 102.33,126.12 103.50,125.67 C104.67,125.21 105.67,124.49 106.50,123.96 C107.33,123.42 107.83,123.11 108.50,122.45 C109.17,121.80 109.83,121.00 110.50,120.05 C111.17,119.10 111.83,117.86 112.50,116.74 C113.17,115.63 113.83,114.54 114.50,113.34 C115.17,112.14 115.83,110.80 116.50,109.53 C117.17,108.27 117.83,107.00 118.50,105.73 C119.17,104.46 119.67,103.46 120.50,101.92 C121.33,100.39 122.53,98.25 123.50,96.52 C124.47,94.78 125.47,92.98 126.30,91.51 C127.13,90.04 127.73,89.01 128.50,87.71 C129.27,86.40 130.50,84.37 130.90,83.70" fill="none" stroke="#f04a32" stroke-width="0.85" stroke-dasharray="1.1,1.5"/>
<rect x="16.8" y="62.5" width="114.00000000000001" height="119.0" fill="none" stroke="#989898" stroke-width="1.35"/>
<line x1="16.80" y1="181.5" x2="16.80" y2="179.1" stroke="#404040" stroke-width="0.9"/>
<line x1="16.80" y1="62.5" x2="16.80" y2="64.9" stroke="#404040" stroke-width="0.9"/>
<line x1="31.05" y1="181.5" x2="31.05" y2="180.1" stroke="#404040" stroke-width="0.9"/>
<line x1="31.05" y1="62.5" x2="31.05" y2="63.9" stroke="#404040" stroke-width="0.9"/>
<line x1="45.30" y1="181.5" x2="45.30" y2="179.1" stroke="#404040" stroke-width="0.9"/>
<line x1="45.30" y1="62.5" x2="45.30" y2="64.9" stroke="#404040" stroke-width="0.9"/>
<line x1="59.55" y1="181.5" x2="59.55" y2="180.1" stroke="#404040" stroke-width="0.9"/>
<line x1="59.55" y1="62.5" x2="59.55" y2="63.9" stroke="#404040" stroke-width="0.9"/>
<line x1="73.80" y1="181.5" x2="73.80" y2="179.1" stroke="#404040" stroke-width="0.9"/>
<line x1="73.80" y1="62.5" x2="73.80" y2="64.9" stroke="#404040" stroke-width="0.9"/>
<line x1="88.05" y1="181.5" x2="88.05" y2="180.1" stroke="#404040" stroke-width="0.9"/>
<line x1="88.05" y1="62.5" x2="88.05" y2="63.9" stroke="#404040" stroke-width="0.9"/>
<line x1="102.30" y1="181.5" x2="102.30" y2="179.1" stroke="#404040" stroke-width="0.9"/>
<line x1="102.30" y1="62.5" x2="102.30" y2="64.9" stroke="#404040" stroke-width="0.9"/>
<line x1="116.55" y1="181.5" x2="116.55" y2="180.1" stroke="#404040" stroke-width="0.9"/>
<line x1="116.55" y1="62.5" x2="116.55" y2="63.9" stroke="#404040" stroke-width="0.9"/>
<line x1="130.80" y1="181.5" x2="130.80" y2="179.1" stroke="#404040" stroke-width="0.9"/>
<line x1="130.80" y1="62.5" x2="130.80" y2="64.9" stroke="#404040" stroke-width="0.9"/>
<line x1="16.8" y1="181.50" x2="19.2" y2="181.50" stroke="#404040" stroke-width="0.9"/>
<line x1="16.8" y1="166.62" x2="18.2" y2="166.62" stroke="#404040" stroke-width="0.9"/>
<line x1="16.8" y1="151.75" x2="19.2" y2="151.75" stroke="#404040" stroke-width="0.9"/>
<line x1="16.8" y1="136.88" x2="18.2" y2="136.88" stroke="#404040" stroke-width="0.9"/>
<line x1="16.8" y1="122.00" x2="19.2" y2="122.00" stroke="#404040" stroke-width="0.9"/>
<line x1="16.8" y1="107.12" x2="18.2" y2="107.12" stroke="#404040" stroke-width="0.9"/>
<line x1="16.8" y1="92.25" x2="19.2" y2="92.25" stroke="#404040" stroke-width="0.9"/>
<line x1="16.8" y1="77.38" x2="18.2" y2="77.38" stroke="#404040" stroke-width="0.9"/>
<line x1="16.8" y1="62.50" x2="19.2" y2="62.50" stroke="#404040" stroke-width="0.9"/>
<line x1="130.8" y1="173.00" x2="128.4" y2="173.00" stroke="#404040" stroke-width="0.9"/>
<line x1="130.8" y1="160.25" x2="129.4" y2="160.25" stroke="#404040" stroke-width="0.9"/>
<line x1="130.8" y1="147.50" x2="128.4" y2="147.50" stroke="#404040" stroke-width="0.9"/>
<line x1="130.8" y1="134.75" x2="129.4" y2="134.75" stroke="#404040" stroke-width="0.9"/>
<line x1="130.8" y1="122.00" x2="128.4" y2="122.00" stroke="#404040" stroke-width="0.9"/>
<line x1="130.8" y1="109.25" x2="129.4" y2="109.25" stroke="#404040" stroke-width="0.9"/>
<line x1="130.8" y1="96.50" x2="128.4" y2="96.50" stroke="#404040" stroke-width="0.9"/>
<line x1="130.8" y1="83.75" x2="129.4" y2="83.75" stroke="#404040" stroke-width="0.9"/>
<line x1="130.8" y1="71.00" x2="128.4" y2="71.00" stroke="#404040" stroke-width="0.9"/>
<text x="16.80" y="189" class="t" text-anchor="middle">1</text>
<text x="45.30" y="189" class="t" text-anchor="middle">2</text>
<text x="73.80" y="189" class="t" text-anchor="middle">3</text>
<text x="102.30" y="189" class="t" text-anchor="middle">4</text>
<text x="130.80" y="189" class="t" text-anchor="middle">5</text>
<text x="15.3" y="183.60" class="t" text-anchor="end">0</text>
<text x="15.3" y="153.85" class="t" text-anchor="end">10</text>
<text x="15.3" y="124.10" class="t" text-anchor="end">20</text>
<text x="15.3" y="94.35" class="t" text-anchor="end">30</text>
<text x="15.3" y="64.60" class="t" text-anchor="end">40</text>
<text x="133.3" y="175.10" class="t">30</text>
<text x="133.3" y="149.60" class="t">60</text>
<text x="133.3" y="124.10" class="t">90</text>
<text x="133.3" y="98.60" class="t">120</text>
<text x="133.3" y="73.10" class="t">150</text>
<text x="73.80" y="197.5" class="ax" text-anchor="middle">Energy (eV)</text>
<text transform="translate(4.600000000000001,119.5) rotate(-90)" class="axr" text-anchor="middle">&#936; (&#176;)</text>
<text transform="translate(147.3,121.5) rotate(-90)" class="axr" text-anchor="middle">&#916; (&#176;)</text>
<text x="22.8" y="57.5" class="e">E<tspan class="sub" dy="2.3">g</tspan></text>
<text x="36.9" y="57.5" class="e">E<tspan class="sub" dy="2.3">g</tspan><tspan class="pm" dy="-2.3" dx="0.8">+</tspan><tspan class="pm" dx="0.7">&#916;</tspan><tspan class="sub" dy="2.3">so</tspan></text>
<text x="64.7" y="57.5" class="e">E<tspan class="sub" dy="2.3">1</tspan></text>
<text x="78.7" y="57.5" class="e">E<tspan class="sub" dy="2.3">1</tspan><tspan class="pm" dy="-2.3" dx="0.8">+</tspan><tspan class="pm" dx="0.7">&#916;</tspan><tspan class="sub" dy="2.3">1</tspan></text>
<line x1="90" y1="99.9" x2="102" y2="99.9" stroke="#c4c4ff" stroke-width="2"/>
<ellipse cx="102.8" cy="99.95" rx="1.35" ry="1.05" fill="#1414ff"/>
<line x1="51" y1="140.1" x2="62.7" y2="140.1" stroke="#ffc8c8" stroke-width="2"/>
<ellipse cx="50.1" cy="140.1" rx="1.5" ry="1.1" fill="#ff1010"/>
<text x="116" y="72.8" class="pl">(b)</text>
<rect x="87.2" y="148.3" width="36.8" height="26.9" fill="#fff" stroke="#c8c8c8" stroke-width="0.6"/>
<line x1="88" y1="152.70" x2="104" y2="152.70" stroke="#a9d6a0" stroke-width="0.8"/>
<text transform="translate(106.2,155.10) skewX(-9)" class="lg">73.5<tspan font-size="5.4px" dy="-0.6">&#176;</tspan></text>
<line x1="88" y1="161.45" x2="104" y2="161.45" stroke="#a8c8ea" stroke-width="0.8"/>
<text transform="translate(106.2,163.85) skewX(-9)" class="lg">74.0<tspan font-size="5.4px" dy="-0.6">&#176;</tspan></text>
<line x1="88" y1="170.20" x2="104" y2="170.20" stroke="#f4b08e" stroke-width="0.8"/>
<text transform="translate(106.2,172.60) skewX(-9)" class="lg">74.5<tspan font-size="5.4px" dy="-0.6">&#176;</tspan></text>
</g>
<g transform="translate(299,0)">
<line x1="28.77" y1="62.5" x2="28.77" y2="181.5" stroke="#e2e2e2" stroke-width="0.6" stroke-dasharray="1,1"/>
<line x1="38.75" y1="62.5" x2="38.75" y2="181.5" stroke="#e2e2e2" stroke-width="0.6" stroke-dasharray="1,1"/>
<line x1="71.09" y1="62.5" x2="71.09" y2="181.5" stroke="#e2e2e2" stroke-width="0.6" stroke-dasharray="1,1"/>
<line x1="78.93" y1="62.5" x2="78.93" y2="181.5" stroke="#e2e2e2" stroke-width="0.6" stroke-dasharray="1,1"/>
<path d="M19.30,69.70 C19.35,69.33 19.55,67.87 19.60,67.50" fill="none" stroke="#8fd07a" stroke-width="1.2"/>
<line x1="19.5" y1="160" x2="19.5" y2="177" stroke="#f8c0a0" stroke-width="0.9"/>
<path d="M19.40,70.00 C19.47,69.42 19.57,67.52 19.80,66.50 C20.03,65.48 20.43,64.22 20.80,63.90 C21.17,63.58 21.62,64.08 22.00,64.60 C22.38,65.12 22.80,65.75 23.10,67.00 C23.40,68.25 23.57,70.35 23.80,72.10 C24.03,73.85 24.32,75.82 24.50,77.50 C24.68,79.18 24.72,80.82 24.90,82.20 C25.08,83.58 25.32,84.75 25.60,85.80 C25.88,86.85 26.22,87.90 26.60,88.50 C26.98,89.10 27.35,89.40 27.90,89.40 C28.45,89.40 29.30,88.90 29.90,88.50 C30.50,88.10 31.03,87.43 31.50,87.00 C31.97,86.57 32.12,86.20 32.70,85.90 C33.28,85.60 33.95,85.22 35.00,85.20 C36.05,85.18 37.17,85.53 39.00,85.80 C40.83,86.07 44.00,86.90 46.00,86.80 C48.00,86.70 49.33,85.77 51.00,85.20 C52.67,84.63 54.58,83.85 56.00,83.40 C57.42,82.95 58.33,82.40 59.50,82.50 C60.67,82.60 61.92,83.15 63.00,84.00 C64.08,84.85 65.17,86.35 66.00,87.60 C66.83,88.85 67.17,89.98 68.00,91.50 C68.83,93.02 69.67,95.03 71.00,96.70 C72.33,98.37 74.33,99.55 76.00,101.50 C77.67,103.45 79.33,106.57 81.00,108.40 C82.67,110.23 84.33,111.47 86.00,112.50 C87.67,113.53 89.33,114.18 91.00,114.60 C92.67,115.02 94.33,115.07 96.00,115.00 C97.67,114.93 99.33,114.77 101.00,114.20 C102.67,113.63 104.33,112.42 106.00,111.60 C107.67,110.78 109.33,109.88 111.00,109.30 C112.67,108.72 114.33,108.20 116.00,108.10 C117.67,108.00 119.33,108.13 121.00,108.70 C122.67,109.27 124.67,110.45 126.00,111.50 C127.33,112.55 128.25,114.00 129.00,115.00 C129.75,116.00 130.25,117.08 130.50,117.50" fill="none" stroke="#c4e6b8" stroke-width="1.25"/>
<path d="M19.40,70.00 C19.47,69.42 19.57,67.52 19.80,66.50 C20.03,65.48 20.43,64.22 20.80,63.90 C21.17,63.58 21.62,64.08 22.00,64.60 C22.38,65.12 22.80,65.75 23.10,67.00 C23.40,68.25 23.57,70.35 23.80,72.10 C24.03,73.85 24.32,75.82 24.50,77.50 C24.68,79.18 24.72,80.82 24.90,82.20 C25.08,83.58 25.32,84.75 25.60,85.80 C25.88,86.85 26.22,87.90 26.60,88.50 C26.98,89.10 27.35,89.40 27.90,89.40 C28.45,89.40 29.30,88.90 29.90,88.50 C30.50,88.10 31.03,87.43 31.50,87.00 C31.97,86.57 32.12,86.20 32.70,85.90 C33.28,85.60 33.95,85.22 35.00,85.20 C36.05,85.18 37.17,85.53 39.00,85.80 C40.83,86.07 44.00,86.90 46.00,86.80 C48.00,86.70 49.33,85.77 51.00,85.20 C52.67,84.63 54.58,83.85 56.00,83.40 C57.42,82.95 58.33,82.40 59.50,82.50 C60.67,82.60 61.92,83.15 63.00,84.00 C64.08,84.85 65.17,86.35 66.00,87.60 C66.83,88.85 67.17,89.98 68.00,91.50 C68.83,93.02 69.67,95.03 71.00,96.70 C72.33,98.37 74.33,99.55 76.00,101.50 C77.67,103.45 79.33,106.57 81.00,108.40 C82.67,110.23 84.33,111.47 86.00,112.50 C87.67,113.53 89.33,114.18 91.00,114.60 C92.67,115.02 94.33,115.07 96.00,115.00 C97.67,114.93 99.33,114.77 101.00,114.20 C102.67,113.63 104.33,112.42 106.00,111.60 C107.67,110.78 109.33,109.88 111.00,109.30 C112.67,108.72 114.33,108.20 116.00,108.10 C117.67,108.00 119.33,108.13 121.00,108.70 C122.67,109.27 124.67,110.45 126.00,111.50 C127.33,112.55 128.25,114.00 129.00,115.00 C129.75,116.00 130.25,117.08 130.50,117.50" fill="none" stroke="#5f70ee" stroke-width="0.95" stroke-dasharray="1.2,1.3"/>
<path d="M19.10,106.70 C19.08,105.83 19.02,103.45 19.00,101.50 C18.98,99.55 18.95,97.08 19.00,95.00 C19.05,92.92 19.17,90.78 19.30,89.00 C19.43,87.22 19.62,85.75 19.80,84.30 C19.98,82.85 20.10,81.62 20.40,80.30 C20.70,78.98 21.23,76.70 21.60,76.40 C21.97,76.10 22.32,77.48 22.60,78.50 C22.88,79.52 23.07,81.08 23.30,82.50 C23.53,83.92 23.75,85.50 24.00,87.00 C24.25,88.50 24.47,89.92 24.80,91.50 C25.13,93.08 25.47,94.55 26.00,96.50 C26.53,98.45 27.42,102.42 28.00,103.20 C28.58,103.98 29.02,101.88 29.50,101.20 C29.98,100.52 29.98,100.03 30.90,99.10 C31.82,98.17 33.52,96.38 35.00,95.60 C36.48,94.82 37.97,94.80 39.80,94.40 C41.63,94.00 44.13,93.68 46.00,93.20 C47.87,92.72 49.33,92.43 51.00,91.50 C52.67,90.57 54.50,88.48 56.00,87.60 C57.50,86.72 58.83,86.27 60.00,86.20 C61.17,86.13 62.00,86.32 63.00,87.20 C64.00,88.08 64.67,89.63 66.00,91.50 C67.33,93.37 69.33,96.38 71.00,98.40 C72.67,100.42 74.33,101.53 76.00,103.60 C77.67,105.67 79.33,108.92 81.00,110.80 C82.67,112.68 84.33,113.90 86.00,114.90 C87.67,115.90 89.33,116.35 91.00,116.80 C92.67,117.25 94.33,117.53 96.00,117.60 C97.67,117.67 99.33,117.72 101.00,117.20 C102.67,116.68 104.33,115.53 106.00,114.50 C107.67,113.47 109.33,111.77 111.00,111.00 C112.67,110.23 114.33,109.98 116.00,109.90 C117.67,109.82 119.33,109.95 121.00,110.50 C122.67,111.05 124.67,112.20 126.00,113.20 C127.33,114.20 128.25,115.53 129.00,116.50 C129.75,117.47 130.25,118.58 130.50,119.00" fill="none" stroke="#b3cdf4" stroke-width="1.25"/>
<path d="M19.10,106.70 C19.08,105.83 19.02,103.45 19.00,101.50 C18.98,99.55 18.95,97.08 19.00,95.00 C19.05,92.92 19.17,90.78 19.30,89.00 C19.43,87.22 19.62,85.75 19.80,84.30 C19.98,82.85 20.10,81.62 20.40,80.30 C20.70,78.98 21.23,76.70 21.60,76.40 C21.97,76.10 22.32,77.48 22.60,78.50 C22.88,79.52 23.07,81.08 23.30,82.50 C23.53,83.92 23.75,85.50 24.00,87.00 C24.25,88.50 24.47,89.92 24.80,91.50 C25.13,93.08 25.47,94.55 26.00,96.50 C26.53,98.45 27.42,102.42 28.00,103.20 C28.58,103.98 29.02,101.88 29.50,101.20 C29.98,100.52 29.98,100.03 30.90,99.10 C31.82,98.17 33.52,96.38 35.00,95.60 C36.48,94.82 37.97,94.80 39.80,94.40 C41.63,94.00 44.13,93.68 46.00,93.20 C47.87,92.72 49.33,92.43 51.00,91.50 C52.67,90.57 54.50,88.48 56.00,87.60 C57.50,86.72 58.83,86.27 60.00,86.20 C61.17,86.13 62.00,86.32 63.00,87.20 C64.00,88.08 64.67,89.63 66.00,91.50 C67.33,93.37 69.33,96.38 71.00,98.40 C72.67,100.42 74.33,101.53 76.00,103.60 C77.67,105.67 79.33,108.92 81.00,110.80 C82.67,112.68 84.33,113.90 86.00,114.90 C87.67,115.90 89.33,116.35 91.00,116.80 C92.67,117.25 94.33,117.53 96.00,117.60 C97.67,117.67 99.33,117.72 101.00,117.20 C102.67,116.68 104.33,115.53 106.00,114.50 C107.67,113.47 109.33,111.77 111.00,111.00 C112.67,110.23 114.33,109.98 116.00,109.90 C117.67,109.82 119.33,109.95 121.00,110.50 C122.67,111.05 124.67,112.20 126.00,113.20 C127.33,114.20 128.25,115.53 129.00,116.50 C129.75,117.47 130.25,118.58 130.50,119.00" fill="none" stroke="#5f70ee" stroke-width="0.95" stroke-dasharray="1.2,1.3"/>
<path d="M19.50,161.00 C19.58,159.50 19.83,155.83 20.00,152.00 C20.17,148.17 20.33,142.77 20.50,138.00 C20.67,133.23 20.83,127.42 21.00,123.40 C21.17,119.38 21.32,116.88 21.50,113.90 C21.68,110.92 21.90,107.78 22.10,105.50 C22.30,103.22 22.30,99.80 22.70,100.20 C23.10,100.60 23.80,105.62 24.50,107.90 C25.20,110.18 26.20,112.02 26.90,113.90 C27.60,115.78 28.00,119.30 28.70,119.20 C29.40,119.10 30.22,115.08 31.10,113.30 C31.98,111.52 32.75,109.80 34.00,108.50 C35.25,107.20 36.60,106.55 38.60,105.50 C40.60,104.45 43.93,103.27 46.00,102.20 C48.07,101.13 49.33,100.30 51.00,99.10 C52.67,97.90 54.75,96.22 56.00,95.00 C57.25,93.78 57.67,92.58 58.50,91.80 C59.33,91.02 60.08,90.30 61.00,90.30 C61.92,90.30 62.83,90.77 64.00,91.80 C65.17,92.83 66.83,95.07 68.00,96.50 C69.17,97.93 69.67,98.87 71.00,100.40 C72.33,101.93 74.33,103.58 76.00,105.70 C77.67,107.82 79.33,111.17 81.00,113.10 C82.67,115.03 84.33,116.15 86.00,117.30 C87.67,118.45 89.33,119.40 91.00,120.00 C92.67,120.60 94.33,120.82 96.00,120.90 C97.67,120.98 99.33,120.93 101.00,120.50 C102.67,120.07 104.33,119.28 106.00,118.30 C107.67,117.32 109.33,115.57 111.00,114.60 C112.67,113.63 114.33,112.80 116.00,112.50 C117.67,112.20 119.33,112.35 121.00,112.80 C122.67,113.25 124.67,114.25 126.00,115.20 C127.33,116.15 128.25,117.53 129.00,118.50 C129.75,119.47 130.25,120.58 130.50,121.00" fill="none" stroke="#f7b994" stroke-width="1.25"/>
<path d="M19.50,161.00 C19.58,159.50 19.83,155.83 20.00,152.00 C20.17,148.17 20.33,142.77 20.50,138.00 C20.67,133.23 20.83,127.42 21.00,123.40 C21.17,119.38 21.32,116.88 21.50,113.90 C21.68,110.92 21.90,107.78 22.10,105.50 C22.30,103.22 22.30,99.80 22.70,100.20 C23.10,100.60 23.80,105.62 24.50,107.90 C25.20,110.18 26.20,112.02 26.90,113.90 C27.60,115.78 28.00,119.30 28.70,119.20 C29.40,119.10 30.22,115.08 31.10,113.30 C31.98,111.52 32.75,109.80 34.00,108.50 C35.25,107.20 36.60,106.55 38.60,105.50 C40.60,104.45 43.93,103.27 46.00,102.20 C48.07,101.13 49.33,100.30 51.00,99.10 C52.67,97.90 54.75,96.22 56.00,95.00 C57.25,93.78 57.67,92.58 58.50,91.80 C59.33,91.02 60.08,90.30 61.00,90.30 C61.92,90.30 62.83,90.77 64.00,91.80 C65.17,92.83 66.83,95.07 68.00,96.50 C69.17,97.93 69.67,98.87 71.00,100.40 C72.33,101.93 74.33,103.58 76.00,105.70 C77.67,107.82 79.33,111.17 81.00,113.10 C82.67,115.03 84.33,116.15 86.00,117.30 C87.67,118.45 89.33,119.40 91.00,120.00 C92.67,120.60 94.33,120.82 96.00,120.90 C97.67,120.98 99.33,120.93 101.00,120.50 C102.67,120.07 104.33,119.28 106.00,118.30 C107.67,117.32 109.33,115.57 111.00,114.60 C112.67,113.63 114.33,112.80 116.00,112.50 C117.67,112.20 119.33,112.35 121.00,112.80 C122.67,113.25 124.67,114.25 126.00,115.20 C127.33,116.15 128.25,117.53 129.00,118.50 C129.75,119.47 130.25,120.58 130.50,121.00" fill="none" stroke="#5f70ee" stroke-width="0.95" stroke-dasharray="1.2,1.3"/>
<path d="M19.20,178.71 C19.42,178.28 20.02,176.98 20.50,176.13 C20.98,175.28 21.33,174.58 22.10,173.64 C22.87,172.69 24.10,170.86 25.10,170.47 C26.10,170.08 27.10,171.37 28.10,171.30 C29.10,171.22 29.95,170.70 31.10,170.02 C32.25,169.34 33.55,168.16 35.00,167.22 C36.45,166.29 37.97,165.29 39.80,164.41 C41.63,163.52 44.13,162.65 46.00,161.92 C47.87,161.19 49.33,161.00 51.00,160.05 C52.67,159.10 54.58,157.71 56.00,156.21 C57.42,154.72 58.33,153.04 59.50,151.06 C60.67,149.08 61.83,146.47 63.00,144.34 C64.17,142.20 65.37,140.19 66.50,138.27 C67.63,136.34 68.72,134.23 69.80,132.79 C70.88,131.36 71.97,130.64 73.00,129.66 C74.03,128.68 75.08,127.62 76.00,126.92 C76.92,126.23 77.67,125.82 78.50,125.51 C79.33,125.20 79.75,125.05 81.00,125.06 C82.25,125.07 84.33,125.44 86.00,125.57 C87.67,125.70 89.33,125.80 91.00,125.85 C92.67,125.90 94.33,125.91 96.00,125.86 C97.67,125.82 99.33,126.01 101.00,125.58 C102.67,125.15 104.67,124.12 106.00,123.29 C107.33,122.46 108.17,121.51 109.00,120.60 C109.83,119.68 110.33,118.77 111.00,117.80 C111.67,116.83 112.33,115.85 113.00,114.80 C113.67,113.75 114.33,112.62 115.00,111.50 C115.67,110.38 116.33,109.32 117.00,108.10 C117.67,106.88 118.33,105.52 119.00,104.20 C119.67,102.88 120.25,101.70 121.00,100.20 C121.75,98.70 122.57,96.97 123.50,95.20 C124.43,93.43 125.77,91.05 126.60,89.60 C127.43,88.15 127.80,87.58 128.50,86.50 C129.20,85.42 130.42,83.67 130.80,83.10" fill="none" stroke="#b8e4ac" stroke-width="1.0"/>
<path d="M19.20,179.50 C19.42,179.08 20.02,177.82 20.50,177.00 C20.98,176.18 21.33,175.50 22.10,174.60 C22.87,173.70 24.10,171.93 25.10,171.60 C26.10,171.27 27.10,172.63 28.10,172.60 C29.10,172.57 29.95,172.05 31.10,171.40 C32.25,170.75 33.55,169.60 35.00,168.70 C36.45,167.80 37.97,166.85 39.80,166.00 C41.63,165.15 44.13,164.30 46.00,163.60 C47.87,162.90 49.33,162.73 51.00,161.80 C52.67,160.87 54.58,159.50 56.00,158.00 C57.42,156.50 58.33,154.80 59.50,152.80 C60.67,150.80 61.83,148.17 63.00,146.00 C64.17,143.83 65.37,141.77 66.50,139.80 C67.63,137.83 68.72,135.70 69.80,134.20 C70.88,132.70 71.97,131.87 73.00,130.80 C74.03,129.73 75.08,128.57 76.00,127.80 C76.92,127.03 77.67,126.55 78.50,126.20 C79.33,125.85 79.75,125.72 81.00,125.70 C82.25,125.68 84.33,126.00 86.00,126.10 C87.67,126.20 89.33,126.27 91.00,126.30 C92.67,126.33 94.33,126.35 96.00,126.30 C97.67,126.25 99.33,126.43 101.00,126.00 C102.67,125.57 104.67,124.53 106.00,123.70 C107.33,122.87 108.17,121.92 109.00,121.00 C109.83,120.08 110.33,119.17 111.00,118.20 C111.67,117.23 112.33,116.25 113.00,115.20 C113.67,114.15 114.33,113.02 115.00,111.90 C115.67,110.78 116.33,109.72 117.00,108.50 C117.67,107.28 118.33,105.92 119.00,104.60 C119.67,103.28 120.25,102.10 121.00,100.60 C121.75,99.10 122.57,97.37 123.50,95.60 C124.43,93.83 125.77,91.45 126.60,90.00 C127.43,88.55 127.80,87.98 128.50,86.90 C129.20,85.82 130.42,84.07 130.80,83.50" fill="none" stroke="#a8d8f4" stroke-width="1.0"/>
<path d="M19.20,180.29 C19.42,179.89 20.02,178.66 20.50,177.87 C20.98,177.08 21.33,176.42 22.10,175.56 C22.87,174.71 24.10,173.01 25.10,172.73 C26.10,172.46 27.10,173.90 28.10,173.90 C29.10,173.91 29.95,173.40 31.10,172.78 C32.25,172.16 33.55,171.04 35.00,170.17 C36.45,169.31 37.97,168.41 39.80,167.59 C41.63,166.78 44.13,165.95 46.00,165.28 C47.87,164.61 49.33,164.46 51.00,163.55 C52.67,162.63 54.58,161.29 56.00,159.79 C57.42,158.28 58.33,156.56 59.50,154.54 C60.67,152.52 61.83,149.86 63.00,147.66 C64.17,145.46 65.37,143.34 66.50,141.33 C67.63,139.32 68.72,137.17 69.80,135.61 C70.88,134.04 71.97,133.09 73.00,131.94 C74.03,130.78 75.08,129.52 76.00,128.68 C76.92,127.83 77.67,127.28 78.50,126.89 C79.33,126.50 79.75,126.38 81.00,126.34 C82.25,126.29 84.33,126.56 86.00,126.63 C87.67,126.70 89.33,126.73 91.00,126.75 C92.67,126.76 94.33,126.79 96.00,126.73 C97.67,126.68 99.33,126.86 101.00,126.42 C102.67,125.98 104.67,124.95 106.00,124.11 C107.33,123.27 108.17,122.32 109.00,121.40 C109.83,120.48 110.33,119.57 111.00,118.60 C111.67,117.63 112.33,116.65 113.00,115.60 C113.67,114.55 114.33,113.42 115.00,112.30 C115.67,111.18 116.33,110.12 117.00,108.90 C117.67,107.68 118.33,106.32 119.00,105.00 C119.67,103.68 120.25,102.50 121.00,101.00 C121.75,99.50 122.57,97.77 123.50,96.00 C124.43,94.23 125.77,91.85 126.60,90.40 C127.43,88.95 127.80,88.38 128.50,87.30 C129.20,86.22 130.42,84.47 130.80,83.90" fill="none" stroke="#f8b496" stroke-width="1.0"/>
<path d="M19.20,178.71 C19.42,178.28 20.02,176.98 20.50,176.13 C20.98,175.28 21.33,174.58 22.10,173.64 C22.87,172.69 24.10,170.86 25.10,170.47 C26.10,170.08 27.10,171.37 28.10,171.30 C29.10,171.22 29.95,170.70 31.10,170.02 C32.25,169.34 33.55,168.16 35.00,167.22 C36.45,166.29 37.97,165.29 39.80,164.41 C41.63,163.52 44.13,162.65 46.00,161.92 C47.87,161.19 49.33,161.00 51.00,160.05 C52.67,159.10 54.58,157.71 56.00,156.21 C57.42,154.72 58.33,153.04 59.50,151.06 C60.67,149.08 61.83,146.47 63.00,144.34 C64.17,142.20 65.37,140.19 66.50,138.27 C67.63,136.34 68.72,134.23 69.80,132.79 C70.88,131.36 71.97,130.64 73.00,129.66 C74.03,128.68 75.08,127.62 76.00,126.92 C76.92,126.23 77.67,125.82 78.50,125.51 C79.33,125.20 79.75,125.05 81.00,125.06 C82.25,125.07 84.33,125.44 86.00,125.57 C87.67,125.70 89.33,125.80 91.00,125.85 C92.67,125.90 94.33,125.91 96.00,125.86 C97.67,125.82 99.33,126.01 101.00,125.58 C102.67,125.15 104.67,124.12 106.00,123.29 C107.33,122.46 108.17,121.51 109.00,120.60 C109.83,119.68 110.33,118.77 111.00,117.80 C111.67,116.83 112.33,115.85 113.00,114.80 C113.67,113.75 114.33,112.62 115.00,111.50 C115.67,110.38 116.33,109.32 117.00,108.10 C117.67,106.88 118.33,105.52 119.00,104.20 C119.67,102.88 120.25,101.70 121.00,100.20 C121.75,98.70 122.57,96.97 123.50,95.20 C124.43,93.43 125.77,91.05 126.60,89.60 C127.43,88.15 127.80,87.58 128.50,86.50 C129.20,85.42 130.42,83.67 130.80,83.10" fill="none" stroke="#f04a32" stroke-width="0.85" stroke-dasharray="1.1,1.5"/>
<path d="M19.20,180.29 C19.42,179.89 20.02,178.66 20.50,177.87 C20.98,177.08 21.33,176.42 22.10,175.56 C22.87,174.71 24.10,173.01 25.10,172.73 C26.10,172.46 27.10,173.90 28.10,173.90 C29.10,173.91 29.95,173.40 31.10,172.78 C32.25,172.16 33.55,171.04 35.00,170.17 C36.45,169.31 37.97,168.41 39.80,167.59 C41.63,166.78 44.13,165.95 46.00,165.28 C47.87,164.61 49.33,164.46 51.00,163.55 C52.67,162.63 54.58,161.29 56.00,159.79 C57.42,158.28 58.33,156.56 59.50,154.54 C60.67,152.52 61.83,149.86 63.00,147.66 C64.17,145.46 65.37,143.34 66.50,141.33 C67.63,139.32 68.72,137.17 69.80,135.61 C70.88,134.04 71.97,133.09 73.00,131.94 C74.03,130.78 75.08,129.52 76.00,128.68 C76.92,127.83 77.67,127.28 78.50,126.89 C79.33,126.50 79.75,126.38 81.00,126.34 C82.25,126.29 84.33,126.56 86.00,126.63 C87.67,126.70 89.33,126.73 91.00,126.75 C92.67,126.76 94.33,126.79 96.00,126.73 C97.67,126.68 99.33,126.86 101.00,126.42 C102.67,125.98 104.67,124.95 106.00,124.11 C107.33,123.27 108.17,122.32 109.00,121.40 C109.83,120.48 110.33,119.57 111.00,118.60 C111.67,117.63 112.33,116.65 113.00,115.60 C113.67,114.55 114.33,113.42 115.00,112.30 C115.67,111.18 116.33,110.12 117.00,108.90 C117.67,107.68 118.33,106.32 119.00,105.00 C119.67,103.68 120.25,102.50 121.00,101.00 C121.75,99.50 122.57,97.77 123.50,96.00 C124.43,94.23 125.77,91.85 126.60,90.40 C127.43,88.95 127.80,88.38 128.50,87.30 C129.20,86.22 130.42,84.47 130.80,83.90" fill="none" stroke="#f04a32" stroke-width="0.85" stroke-dasharray="1.1,1.5"/>
<rect x="16.8" y="62.5" width="114.00000000000001" height="119.0" fill="none" stroke="#989898" stroke-width="1.35"/>
<line x1="16.80" y1="181.5" x2="16.80" y2="179.1" stroke="#404040" stroke-width="0.9"/>
<line x1="16.80" y1="62.5" x2="16.80" y2="64.9" stroke="#404040" stroke-width="0.9"/>
<line x1="31.05" y1="181.5" x2="31.05" y2="180.1" stroke="#404040" stroke-width="0.9"/>
<line x1="31.05" y1="62.5" x2="31.05" y2="63.9" stroke="#404040" stroke-width="0.9"/>
<line x1="45.30" y1="181.5" x2="45.30" y2="179.1" stroke="#404040" stroke-width="0.9"/>
<line x1="45.30" y1="62.5" x2="45.30" y2="64.9" stroke="#404040" stroke-width="0.9"/>
<line x1="59.55" y1="181.5" x2="59.55" y2="180.1" stroke="#404040" stroke-width="0.9"/>
<line x1="59.55" y1="62.5" x2="59.55" y2="63.9" stroke="#404040" stroke-width="0.9"/>
<line x1="73.80" y1="181.5" x2="73.80" y2="179.1" stroke="#404040" stroke-width="0.9"/>
<line x1="73.80" y1="62.5" x2="73.80" y2="64.9" stroke="#404040" stroke-width="0.9"/>
<line x1="88.05" y1="181.5" x2="88.05" y2="180.1" stroke="#404040" stroke-width="0.9"/>
<line x1="88.05" y1="62.5" x2="88.05" y2="63.9" stroke="#404040" stroke-width="0.9"/>
<line x1="102.30" y1="181.5" x2="102.30" y2="179.1" stroke="#404040" stroke-width="0.9"/>
<line x1="102.30" y1="62.5" x2="102.30" y2="64.9" stroke="#404040" stroke-width="0.9"/>
<line x1="116.55" y1="181.5" x2="116.55" y2="180.1" stroke="#404040" stroke-width="0.9"/>
<line x1="116.55" y1="62.5" x2="116.55" y2="63.9" stroke="#404040" stroke-width="0.9"/>
<line x1="130.80" y1="181.5" x2="130.80" y2="179.1" stroke="#404040" stroke-width="0.9"/>
<line x1="130.80" y1="62.5" x2="130.80" y2="64.9" stroke="#404040" stroke-width="0.9"/>
<line x1="16.8" y1="181.50" x2="19.2" y2="181.50" stroke="#404040" stroke-width="0.9"/>
<line x1="16.8" y1="166.62" x2="18.2" y2="166.62" stroke="#404040" stroke-width="0.9"/>
<line x1="16.8" y1="151.75" x2="19.2" y2="151.75" stroke="#404040" stroke-width="0.9"/>
<line x1="16.8" y1="136.88" x2="18.2" y2="136.88" stroke="#404040" stroke-width="0.9"/>
<line x1="16.8" y1="122.00" x2="19.2" y2="122.00" stroke="#404040" stroke-width="0.9"/>
<line x1="16.8" y1="107.12" x2="18.2" y2="107.12" stroke="#404040" stroke-width="0.9"/>
<line x1="16.8" y1="92.25" x2="19.2" y2="92.25" stroke="#404040" stroke-width="0.9"/>
<line x1="16.8" y1="77.38" x2="18.2" y2="77.38" stroke="#404040" stroke-width="0.9"/>
<line x1="16.8" y1="62.50" x2="19.2" y2="62.50" stroke="#404040" stroke-width="0.9"/>
<line x1="130.8" y1="173.00" x2="128.4" y2="173.00" stroke="#404040" stroke-width="0.9"/>
<line x1="130.8" y1="160.25" x2="129.4" y2="160.25" stroke="#404040" stroke-width="0.9"/>
<line x1="130.8" y1="147.50" x2="128.4" y2="147.50" stroke="#404040" stroke-width="0.9"/>
<line x1="130.8" y1="134.75" x2="129.4" y2="134.75" stroke="#404040" stroke-width="0.9"/>
<line x1="130.8" y1="122.00" x2="128.4" y2="122.00" stroke="#404040" stroke-width="0.9"/>
<line x1="130.8" y1="109.25" x2="129.4" y2="109.25" stroke="#404040" stroke-width="0.9"/>
<line x1="130.8" y1="96.50" x2="128.4" y2="96.50" stroke="#404040" stroke-width="0.9"/>
<line x1="130.8" y1="83.75" x2="129.4" y2="83.75" stroke="#404040" stroke-width="0.9"/>
<line x1="130.8" y1="71.00" x2="128.4" y2="71.00" stroke="#404040" stroke-width="0.9"/>
<text x="16.80" y="189" class="t" text-anchor="middle">1</text>
<text x="45.30" y="189" class="t" text-anchor="middle">2</text>
<text x="73.80" y="189" class="t" text-anchor="middle">3</text>
<text x="102.30" y="189" class="t" text-anchor="middle">4</text>
<text x="130.80" y="189" class="t" text-anchor="middle">5</text>
<text x="15.3" y="183.60" class="t" text-anchor="end">0</text>
<text x="15.3" y="153.85" class="t" text-anchor="end">10</text>
<text x="15.3" y="124.10" class="t" text-anchor="end">20</text>
<text x="15.3" y="94.35" class="t" text-anchor="end">30</text>
<text x="15.3" y="64.60" class="t" text-anchor="end">40</text>
<text x="133.3" y="175.10" class="t">30</text>
<text x="133.3" y="149.60" class="t">60</text>
<text x="133.3" y="124.10" class="t">90</text>
<text x="133.3" y="98.60" class="t">120</text>
<text x="133.3" y="73.10" class="t">150</text>
<text x="73.80" y="197.5" class="ax" text-anchor="middle">Energy (eV)</text>
<text transform="translate(4.600000000000001,119.5) rotate(-90)" class="axr" text-anchor="middle">&#936; (&#176;)</text>
<text transform="translate(147.3,121.5) rotate(-90)" class="axr" text-anchor="middle">&#916; (&#176;)</text>
<text x="22.8" y="57.5" class="e">E<tspan class="sub" dy="2.3">g</tspan></text>
<text x="36.9" y="57.5" class="e">E<tspan class="sub" dy="2.3">g</tspan><tspan class="pm" dy="-2.3" dx="0.8">+</tspan><tspan class="pm" dx="0.7">&#916;</tspan><tspan class="sub" dy="2.3">so</tspan></text>
<text x="64.7" y="57.5" class="e">E<tspan class="sub" dy="2.3">1</tspan></text>
<text x="78.7" y="57.5" class="e">E<tspan class="sub" dy="2.3">1</tspan><tspan class="pm" dy="-2.3" dx="0.8">+</tspan><tspan class="pm" dx="0.7">&#916;</tspan><tspan class="sub" dy="2.3">1</tspan></text>
<line x1="90" y1="99.9" x2="102" y2="99.9" stroke="#c4c4ff" stroke-width="2"/>
<ellipse cx="102.8" cy="99.95" rx="1.35" ry="1.05" fill="#1414ff"/>
<line x1="51" y1="140.1" x2="62.7" y2="140.1" stroke="#ffc8c8" stroke-width="2"/>
<ellipse cx="50.1" cy="140.1" rx="1.5" ry="1.1" fill="#ff1010"/>
<text x="116" y="72.8" class="pl">(c)</text>
<rect x="87.2" y="148.3" width="36.8" height="26.9" fill="#fff" stroke="#c8c8c8" stroke-width="0.6"/>
<line x1="88" y1="152.70" x2="104" y2="152.70" stroke="#a9d6a0" stroke-width="0.8"/>
<text transform="translate(106.2,155.10) skewX(-9)" class="lg">73.5<tspan font-size="5.4px" dy="-0.6">&#176;</tspan></text>
<line x1="88" y1="161.45" x2="104" y2="161.45" stroke="#a8c8ea" stroke-width="0.8"/>
<text transform="translate(106.2,163.85) skewX(-9)" class="lg">74.0<tspan font-size="5.4px" dy="-0.6">&#176;</tspan></text>
<line x1="88" y1="170.20" x2="104" y2="170.20" stroke="#f4b08e" stroke-width="0.8"/>
<text transform="translate(106.2,172.60) skewX(-9)" class="lg">74.5<tspan font-size="5.4px" dy="-0.6">&#176;</tspan></text>
</g>
</svg>
</body></html>
